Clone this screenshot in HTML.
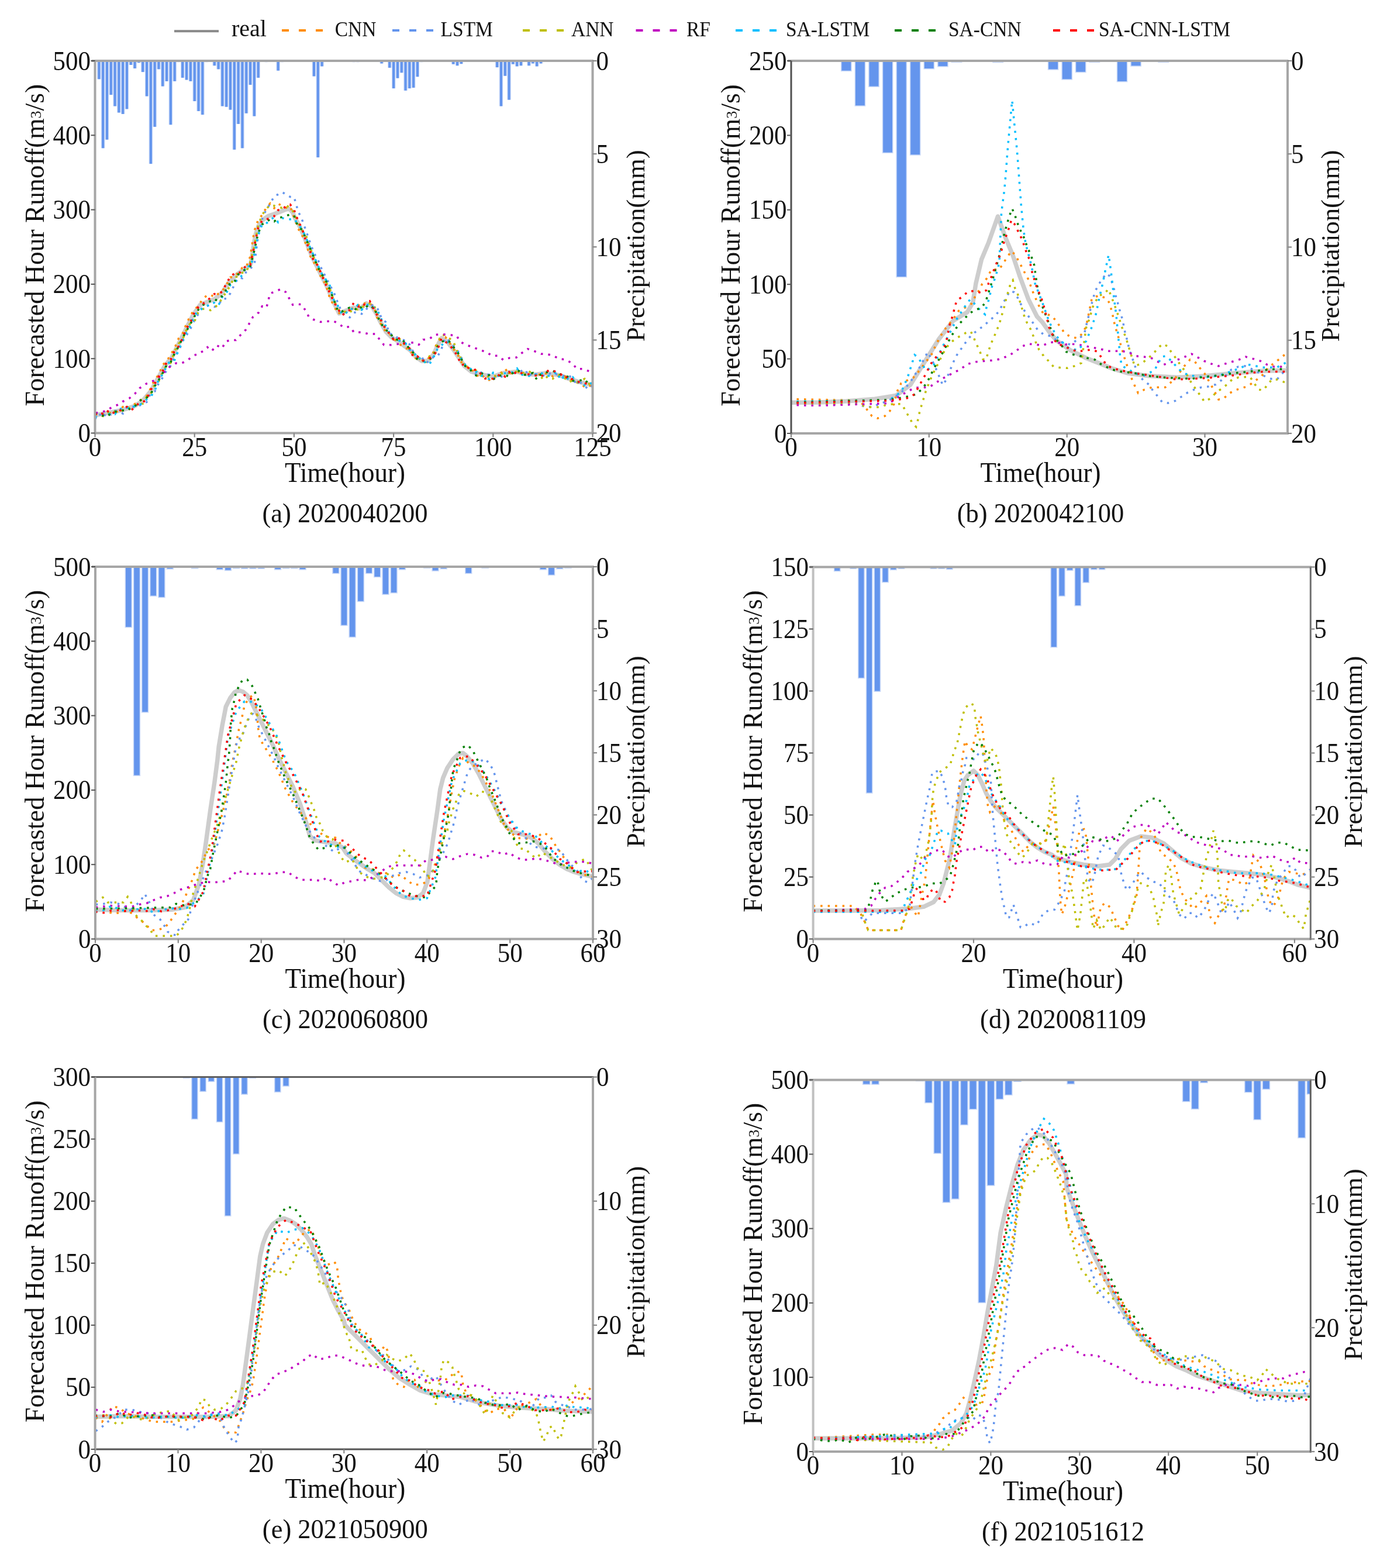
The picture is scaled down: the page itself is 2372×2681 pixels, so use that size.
<!DOCTYPE html>
<html><head><meta charset="utf-8"><title>Runoff forecasts</title>
<style>html,body{margin:0;padding:0;background:#fff;} svg{display:block;filter:blur(0.6px);}</style>
</head><body>
<svg width="2372" height="2681" viewBox="0 0 2372 2681" font-family="'Liberation Serif', 'Times New Roman', serif"><g id="panel-a">
<clipPath id="clipa"><rect x="162.5" y="104.0" width="851.0" height="636.5"/></clipPath>
<g clip-path="url(#clipa)">
<rect x="166.1" y="104.0" width="6.5" height="31.3" fill="#c9d9f8"/>
<rect x="172.9" y="104.0" width="6.5" height="149.3" fill="#c9d9f8"/>
<rect x="179.7" y="104.0" width="6.5" height="134.7" fill="#c9d9f8"/>
<rect x="186.5" y="104.0" width="6.5" height="58.1" fill="#c9d9f8"/>
<rect x="193.3" y="104.0" width="6.5" height="77.5" fill="#c9d9f8"/>
<rect x="200.1" y="104.0" width="6.5" height="88.5" fill="#c9d9f8"/>
<rect x="206.9" y="104.0" width="6.5" height="90.9" fill="#c9d9f8"/>
<rect x="213.7" y="104.0" width="6.5" height="82.4" fill="#c9d9f8"/>
<rect x="220.5" y="104.0" width="6.5" height="7.0" fill="#c9d9f8"/>
<rect x="227.3" y="104.0" width="6.5" height="13.0" fill="#c9d9f8"/>
<rect x="234.2" y="104.0" width="6.5" height="3.3" fill="#c9d9f8"/>
<rect x="241.0" y="104.0" width="6.5" height="19.1" fill="#c9d9f8"/>
<rect x="247.8" y="104.0" width="6.5" height="60.5" fill="#c9d9f8"/>
<rect x="254.6" y="104.0" width="6.5" height="176.1" fill="#c9d9f8"/>
<rect x="261.4" y="104.0" width="6.5" height="112.8" fill="#c9d9f8"/>
<rect x="268.2" y="104.0" width="6.5" height="14.3" fill="#c9d9f8"/>
<rect x="275.0" y="104.0" width="6.5" height="43.5" fill="#c9d9f8"/>
<rect x="281.8" y="104.0" width="6.5" height="34.9" fill="#c9d9f8"/>
<rect x="288.6" y="104.0" width="6.5" height="109.2" fill="#c9d9f8"/>
<rect x="295.4" y="104.0" width="6.5" height="34.9" fill="#c9d9f8"/>
<rect x="302.2" y="104.0" width="6.5" height="2.1" fill="#c9d9f8"/>
<rect x="309.0" y="104.0" width="6.5" height="28.9" fill="#c9d9f8"/>
<rect x="315.9" y="104.0" width="6.5" height="32.5" fill="#c9d9f8"/>
<rect x="322.7" y="104.0" width="6.5" height="34.9" fill="#c9d9f8"/>
<rect x="329.5" y="104.0" width="6.5" height="69.0" fill="#c9d9f8"/>
<rect x="336.3" y="104.0" width="6.5" height="86.0" fill="#c9d9f8"/>
<rect x="343.1" y="104.0" width="6.5" height="92.1" fill="#c9d9f8"/>
<rect x="349.9" y="104.0" width="6.5" height="2.1" fill="#c9d9f8"/>
<rect x="356.7" y="104.0" width="6.5" height="0.9" fill="#c9d9f8"/>
<rect x="363.5" y="104.0" width="6.5" height="8.2" fill="#c9d9f8"/>
<rect x="370.3" y="104.0" width="6.5" height="14.3" fill="#c9d9f8"/>
<rect x="377.1" y="104.0" width="6.5" height="77.5" fill="#c9d9f8"/>
<rect x="383.9" y="104.0" width="6.5" height="78.7" fill="#c9d9f8"/>
<rect x="390.7" y="104.0" width="6.5" height="83.6" fill="#c9d9f8"/>
<rect x="397.5" y="104.0" width="6.5" height="151.8" fill="#c9d9f8"/>
<rect x="404.4" y="104.0" width="6.5" height="107.9" fill="#c9d9f8"/>
<rect x="411.2" y="104.0" width="6.5" height="149.3" fill="#c9d9f8"/>
<rect x="418.0" y="104.0" width="6.5" height="89.7" fill="#c9d9f8"/>
<rect x="424.8" y="104.0" width="6.5" height="41.0" fill="#c9d9f8"/>
<rect x="431.6" y="104.0" width="6.5" height="94.6" fill="#c9d9f8"/>
<rect x="438.4" y="104.0" width="6.5" height="28.9" fill="#c9d9f8"/>
<rect x="452.0" y="104.0" width="6.5" height="2.1" fill="#c9d9f8"/>
<rect x="472.4" y="104.0" width="6.5" height="16.7" fill="#c9d9f8"/>
<rect x="479.2" y="104.0" width="6.5" height="2.1" fill="#c9d9f8"/>
<rect x="533.7" y="104.0" width="6.5" height="26.4" fill="#c9d9f8"/>
<rect x="540.5" y="104.0" width="6.5" height="165.1" fill="#c9d9f8"/>
<rect x="547.3" y="104.0" width="6.5" height="9.4" fill="#c9d9f8"/>
<rect x="601.8" y="104.0" width="6.5" height="2.1" fill="#c9d9f8"/>
<rect x="608.6" y="104.0" width="6.5" height="2.1" fill="#c9d9f8"/>
<rect x="649.4" y="104.0" width="6.5" height="4.5" fill="#c9d9f8"/>
<rect x="663.1" y="104.0" width="6.5" height="11.8" fill="#c9d9f8"/>
<rect x="669.9" y="104.0" width="6.5" height="47.1" fill="#c9d9f8"/>
<rect x="676.7" y="104.0" width="6.5" height="29.6" fill="#c9d9f8"/>
<rect x="683.5" y="104.0" width="6.5" height="20.3" fill="#c9d9f8"/>
<rect x="690.3" y="104.0" width="6.5" height="50.8" fill="#c9d9f8"/>
<rect x="697.1" y="104.0" width="6.5" height="47.1" fill="#c9d9f8"/>
<rect x="703.9" y="104.0" width="6.5" height="45.9" fill="#c9d9f8"/>
<rect x="710.7" y="104.0" width="6.5" height="27.2" fill="#c9d9f8"/>
<rect x="717.5" y="104.0" width="6.5" height="2.1" fill="#c9d9f8"/>
<rect x="772.0" y="104.0" width="6.5" height="5.7" fill="#c9d9f8"/>
<rect x="778.8" y="104.0" width="6.5" height="8.2" fill="#c9d9f8"/>
<rect x="785.6" y="104.0" width="6.5" height="5.2" fill="#c9d9f8"/>
<rect x="846.9" y="104.0" width="6.5" height="11.1" fill="#c9d9f8"/>
<rect x="853.7" y="104.0" width="6.5" height="77.5" fill="#c9d9f8"/>
<rect x="860.5" y="104.0" width="6.5" height="25.7" fill="#c9d9f8"/>
<rect x="867.3" y="104.0" width="6.5" height="66.6" fill="#c9d9f8"/>
<rect x="874.1" y="104.0" width="6.5" height="5.7" fill="#c9d9f8"/>
<rect x="880.9" y="104.0" width="6.5" height="9.4" fill="#c9d9f8"/>
<rect x="887.7" y="104.0" width="6.5" height="8.2" fill="#c9d9f8"/>
<rect x="901.3" y="104.0" width="6.5" height="8.2" fill="#c9d9f8"/>
<rect x="908.1" y="104.0" width="6.5" height="4.5" fill="#c9d9f8"/>
<rect x="915.0" y="104.0" width="6.5" height="9.4" fill="#c9d9f8"/>
<rect x="921.8" y="104.0" width="6.5" height="4.5" fill="#c9d9f8"/>
<rect x="167.3" y="104.0" width="4.1" height="31.3" fill="#6495ed"/>
<rect x="174.1" y="104.0" width="4.1" height="149.3" fill="#6495ed"/>
<rect x="180.9" y="104.0" width="4.1" height="134.7" fill="#6495ed"/>
<rect x="187.7" y="104.0" width="4.1" height="58.1" fill="#6495ed"/>
<rect x="194.5" y="104.0" width="4.1" height="77.5" fill="#6495ed"/>
<rect x="201.3" y="104.0" width="4.1" height="88.5" fill="#6495ed"/>
<rect x="208.1" y="104.0" width="4.1" height="90.9" fill="#6495ed"/>
<rect x="214.9" y="104.0" width="4.1" height="82.4" fill="#6495ed"/>
<rect x="221.7" y="104.0" width="4.1" height="7.0" fill="#6495ed"/>
<rect x="228.5" y="104.0" width="4.1" height="13.0" fill="#6495ed"/>
<rect x="235.3" y="104.0" width="4.1" height="3.3" fill="#6495ed"/>
<rect x="242.2" y="104.0" width="4.1" height="19.1" fill="#6495ed"/>
<rect x="249.0" y="104.0" width="4.1" height="60.5" fill="#6495ed"/>
<rect x="255.8" y="104.0" width="4.1" height="176.1" fill="#6495ed"/>
<rect x="262.6" y="104.0" width="4.1" height="112.8" fill="#6495ed"/>
<rect x="269.4" y="104.0" width="4.1" height="14.3" fill="#6495ed"/>
<rect x="276.2" y="104.0" width="4.1" height="43.5" fill="#6495ed"/>
<rect x="283.0" y="104.0" width="4.1" height="34.9" fill="#6495ed"/>
<rect x="289.8" y="104.0" width="4.1" height="109.2" fill="#6495ed"/>
<rect x="296.6" y="104.0" width="4.1" height="34.9" fill="#6495ed"/>
<rect x="303.4" y="104.0" width="4.1" height="2.1" fill="#6495ed"/>
<rect x="310.2" y="104.0" width="4.1" height="28.9" fill="#6495ed"/>
<rect x="317.0" y="104.0" width="4.1" height="32.5" fill="#6495ed"/>
<rect x="323.8" y="104.0" width="4.1" height="34.9" fill="#6495ed"/>
<rect x="330.7" y="104.0" width="4.1" height="69.0" fill="#6495ed"/>
<rect x="337.5" y="104.0" width="4.1" height="86.0" fill="#6495ed"/>
<rect x="344.3" y="104.0" width="4.1" height="92.1" fill="#6495ed"/>
<rect x="351.1" y="104.0" width="4.1" height="2.1" fill="#6495ed"/>
<rect x="357.9" y="104.0" width="4.1" height="0.9" fill="#6495ed"/>
<rect x="364.7" y="104.0" width="4.1" height="8.2" fill="#6495ed"/>
<rect x="371.5" y="104.0" width="4.1" height="14.3" fill="#6495ed"/>
<rect x="378.3" y="104.0" width="4.1" height="77.5" fill="#6495ed"/>
<rect x="385.1" y="104.0" width="4.1" height="78.7" fill="#6495ed"/>
<rect x="391.9" y="104.0" width="4.1" height="83.6" fill="#6495ed"/>
<rect x="398.7" y="104.0" width="4.1" height="151.8" fill="#6495ed"/>
<rect x="405.5" y="104.0" width="4.1" height="107.9" fill="#6495ed"/>
<rect x="412.4" y="104.0" width="4.1" height="149.3" fill="#6495ed"/>
<rect x="419.2" y="104.0" width="4.1" height="89.7" fill="#6495ed"/>
<rect x="426.0" y="104.0" width="4.1" height="41.0" fill="#6495ed"/>
<rect x="432.8" y="104.0" width="4.1" height="94.6" fill="#6495ed"/>
<rect x="439.6" y="104.0" width="4.1" height="28.9" fill="#6495ed"/>
<rect x="453.2" y="104.0" width="4.1" height="2.1" fill="#6495ed"/>
<rect x="473.6" y="104.0" width="4.1" height="16.7" fill="#6495ed"/>
<rect x="480.4" y="104.0" width="4.1" height="2.1" fill="#6495ed"/>
<rect x="534.9" y="104.0" width="4.1" height="26.4" fill="#6495ed"/>
<rect x="541.7" y="104.0" width="4.1" height="165.1" fill="#6495ed"/>
<rect x="548.5" y="104.0" width="4.1" height="9.4" fill="#6495ed"/>
<rect x="603.0" y="104.0" width="4.1" height="2.1" fill="#6495ed"/>
<rect x="609.8" y="104.0" width="4.1" height="2.1" fill="#6495ed"/>
<rect x="650.6" y="104.0" width="4.1" height="4.5" fill="#6495ed"/>
<rect x="664.2" y="104.0" width="4.1" height="11.8" fill="#6495ed"/>
<rect x="671.1" y="104.0" width="4.1" height="47.1" fill="#6495ed"/>
<rect x="677.9" y="104.0" width="4.1" height="29.6" fill="#6495ed"/>
<rect x="684.7" y="104.0" width="4.1" height="20.3" fill="#6495ed"/>
<rect x="691.5" y="104.0" width="4.1" height="50.8" fill="#6495ed"/>
<rect x="698.3" y="104.0" width="4.1" height="47.1" fill="#6495ed"/>
<rect x="705.1" y="104.0" width="4.1" height="45.9" fill="#6495ed"/>
<rect x="711.9" y="104.0" width="4.1" height="27.2" fill="#6495ed"/>
<rect x="718.7" y="104.0" width="4.1" height="2.1" fill="#6495ed"/>
<rect x="773.2" y="104.0" width="4.1" height="5.7" fill="#6495ed"/>
<rect x="780.0" y="104.0" width="4.1" height="8.2" fill="#6495ed"/>
<rect x="786.8" y="104.0" width="4.1" height="5.2" fill="#6495ed"/>
<rect x="848.1" y="104.0" width="4.1" height="11.1" fill="#6495ed"/>
<rect x="854.9" y="104.0" width="4.1" height="77.5" fill="#6495ed"/>
<rect x="861.7" y="104.0" width="4.1" height="25.7" fill="#6495ed"/>
<rect x="868.5" y="104.0" width="4.1" height="66.6" fill="#6495ed"/>
<rect x="875.3" y="104.0" width="4.1" height="5.7" fill="#6495ed"/>
<rect x="882.1" y="104.0" width="4.1" height="9.4" fill="#6495ed"/>
<rect x="888.9" y="104.0" width="4.1" height="8.2" fill="#6495ed"/>
<rect x="902.5" y="104.0" width="4.1" height="8.2" fill="#6495ed"/>
<rect x="909.3" y="104.0" width="4.1" height="4.5" fill="#6495ed"/>
<rect x="916.1" y="104.0" width="4.1" height="9.4" fill="#6495ed"/>
<rect x="923.0" y="104.0" width="4.1" height="4.5" fill="#6495ed"/>
</g>
<g clip-path="url(#clipa)" fill="none">
<polyline points="163.7,709.8 184.3,706.1 208.7,701.2 228.1,695.2 242.7,686.6 257.3,669.6 269.5,647.7 281.7,625.8 293.8,611.2 306.0,586.9 318.2,562.5 330.4,538.2 342.5,521.2 354.7,516.3 366.9,511.4 379.0,501.7 391.3,483.1 404.4,469.9 417.6,460.5 428.9,451.1 431.7,434.2 434.5,415.4 437.4,400.4 442.1,386.2 449.6,375.9 459.0,369.3 470.3,365.6 479.7,361.8 489.1,358.0 494.7,357.1 500.4,362.7 504.1,372.1 511.6,385.3 519.2,402.2 526.7,421.0 534.2,439.8 543.6,458.7 553.0,477.5 560.5,492.5 568.1,511.3 580.0,535.8 592.2,530.9 604.3,526.0 616.5,527.2 626.2,518.7 636.0,523.6 643.3,535.8 650.6,550.4 660.3,567.4 670.0,577.1 682.2,584.4 691.9,591.7 701.7,599.0 711.4,610.0 721.2,617.3 730.9,617.3 740.6,607.5 750.4,586.9 755.2,578.3 765.0,584.4 774.7,596.6 784.4,611.2 794.2,625.8 806.3,635.5 823.4,640.4 842.8,644.0 859.9,638.0 884.2,635.5 896.4,639.2 915.8,640.4 932.9,638.0 957.2,641.6 969.4,646.5 988.8,652.6 1014.4,658.7" stroke="#cdcdcd" stroke-width="7.5" stroke-linejoin="round"/>
<polyline points="162.5,709.5 169.3,707.3 176.1,707.9 182.9,708.7 189.7,705.9 196.5,706.3 203.3,701.6 210.2,695.7 217.0,699.4 223.8,697.6 230.6,690.6 237.4,687.0 244.2,681.4 251.0,676.7 257.8,663.6 264.6,648.4 271.4,641.1 278.2,623.9 285.0,617.8 291.9,606.2 298.7,595.2 305.5,578.6 312.3,570.3 319.1,552.9 325.9,539.5 332.7,528.3 339.5,523.4 346.3,511.3 353.1,505.8 359.9,503.7 366.7,508.0 373.5,502.1 380.4,497.3 387.2,487.3 394.0,474.2 400.8,473.4 407.6,465.8 414.4,457.8 421.2,456.3 428.0,438.4 434.8,395.2 441.6,375.5 448.4,367.6 455.2,355.7 462.1,347.8 468.9,355.9 475.7,348.5 482.5,351.8 489.3,355.3 496.1,352.8 502.9,371.5 509.7,390.6 516.5,402.1 523.3,417.6 530.1,437.1 536.9,448.6 543.7,464.6 550.6,475.9 557.4,487.0 564.2,510.6 571.0,522.2 577.8,537.0 584.6,532.4 591.4,533.9 598.2,529.1 605.0,526.6 611.8,523.1 618.6,516.9 625.4,519.3 632.3,518.9 639.1,523.6 645.9,546.0 652.7,555.6 659.5,567.1 666.3,571.1 673.1,578.1 679.9,585.7 686.7,591.0 693.5,595.7 700.3,595.7 707.1,609.6 713.9,614.8 720.8,616.0 727.6,617.3 734.4,611.0 741.2,602.8 748.0,584.2 754.8,578.1 761.6,576.2 768.4,585.3 775.2,596.5 782.0,604.7 788.8,618.9 795.6,622.7 802.5,632.5 809.3,634.0 816.1,642.5 822.9,639.4 829.7,647.3 836.5,649.8 843.3,643.9 850.1,643.3 856.9,637.5 863.7,630.2 870.5,639.3 877.3,637.9 884.1,635.7 891.0,636.8 897.8,640.0 904.6,640.5 911.4,638.1 918.2,638.0 925.0,642.0 931.8,638.5 938.6,639.1 945.4,643.6 952.2,640.4 959.0,646.2 965.8,643.1 972.7,647.7 979.5,650.2 986.3,654.5 993.1,654.6 999.9,662.2 1006.7,661.1 1013.5,657.5" stroke="#ff8c00" stroke-width="3.5" stroke-dasharray="3.5 9.0"/>
<polyline points="162.5,716.5 169.3,707.1 176.1,714.2 182.9,705.0 189.7,708.9 196.5,702.4 203.3,703.1 210.2,707.1 217.0,696.6 223.8,693.8 230.6,696.5 237.4,694.2 244.2,689.9 251.0,687.3 257.8,672.7 264.6,669.3 271.4,655.4 278.2,645.6 285.0,632.8 291.9,625.0 298.7,608.8 305.5,600.7 312.3,583.5 319.1,573.0 325.9,561.7 332.7,547.1 339.5,536.4 346.3,525.8 353.1,523.1 359.9,521.8 366.7,524.5 373.5,521.7 380.4,509.9 387.2,511.0 394.0,501.3 400.8,486.8 407.6,474.5 414.4,475.8 421.2,464.9 428.0,458.8 434.8,454.2 441.6,401.6 448.4,374.5 455.2,358.3 462.1,348.7 468.9,335.2 475.7,332.4 482.5,328.4 489.3,332.5 496.1,336.6 502.9,336.9 509.7,360.9 516.5,375.6 523.3,394.5 530.1,414.2 536.9,432.3 543.7,444.4 550.6,461.2 557.4,474.4 564.2,487.7 571.0,500.1 577.8,517.9 584.6,534.2 591.4,540.4 598.2,542.7 605.0,534.6 611.8,533.3 618.6,536.7 625.4,530.4 632.3,521.3 639.1,522.3 645.9,528.3 652.7,544.3 659.5,550.6 666.3,571.2 673.1,571.3 679.9,577.8 686.7,580.7 693.5,582.3 700.3,588.7 707.1,602.2 713.9,611.3 720.8,609.8 727.6,620.5 734.4,617.3 741.2,610.4 748.0,610.1 754.8,597.2 761.6,577.7 768.4,582.6 775.2,590.4 782.0,598.3 788.8,611.4 795.6,623.6 802.5,628.1 809.3,636.1 816.1,641.8 822.9,636.9 829.7,640.6 836.5,640.4 843.3,646.1 850.1,645.7 856.9,644.4 863.7,641.6 870.5,636.9 877.3,639.3 884.1,635.0 891.0,634.6 897.8,631.3 904.6,643.7 911.4,636.9 918.2,640.4 925.0,640.0 931.8,643.6 938.6,639.5 945.4,636.6 952.2,640.2 959.0,640.7 965.8,643.5 972.7,641.7 979.5,647.8 986.3,656.8 993.1,654.2 999.9,660.0 1006.7,665.7 1013.5,658.7" stroke="#6495ed" stroke-width="3.5" stroke-dasharray="3.5 9.0"/>
<polyline points="162.5,705.5 169.3,709.0 176.1,711.6 182.9,709.7 189.7,701.8 196.5,703.6 203.3,702.6 210.2,701.5 217.0,699.2 223.8,694.6 230.6,693.2 237.4,690.3 244.2,690.3 251.0,677.8 257.8,673.6 264.6,656.7 271.4,652.0 278.2,636.1 285.0,624.2 291.9,620.3 298.7,600.2 305.5,587.5 312.3,580.3 319.1,563.2 325.9,551.7 332.7,549.3 339.5,532.7 346.3,528.4 353.1,527.7 359.9,530.5 366.7,525.9 373.5,520.3 380.4,508.7 387.2,499.1 394.0,487.7 400.8,474.0 407.6,472.6 414.4,466.3 421.2,465.2 428.0,447.9 434.8,421.7 441.6,385.0 448.4,367.4 455.2,357.3 462.1,350.5 468.9,351.8 475.7,354.1 482.5,355.5 489.3,351.6 496.1,354.7 502.9,364.0 509.7,380.2 516.5,393.7 523.3,402.4 530.1,422.9 536.9,441.0 543.7,456.0 550.6,472.0 557.4,482.3 564.2,493.7 571.0,514.4 577.8,527.8 584.6,535.4 591.4,531.7 598.2,534.4 605.0,527.3 611.8,529.3 618.6,524.3 625.4,523.7 632.3,518.9 639.1,520.5 645.9,537.9 652.7,552.4 659.5,561.8 666.3,571.3 673.1,580.9 679.9,580.3 686.7,579.8 693.5,592.2 700.3,597.1 707.1,606.0 713.9,608.9 720.8,618.6 727.6,619.2 734.4,609.1 741.2,608.0 748.0,587.7 754.8,571.8 761.6,573.9 768.4,578.4 775.2,583.4 782.0,601.3 788.8,614.0 795.6,627.7 802.5,629.8 809.3,630.7 816.1,634.5 822.9,642.6 829.7,643.9 836.5,644.1 843.3,642.8 850.1,642.8 856.9,639.1 863.7,636.8 870.5,638.1 877.3,636.6 884.1,635.2 891.0,637.5 897.8,637.9 904.6,634.6 911.4,639.7 918.2,642.5 925.0,647.8 931.8,640.8 938.6,648.5 945.4,647.6 952.2,640.9 959.0,641.7 965.8,646.3 972.7,653.3 979.5,650.7 986.3,653.5 993.1,651.2 999.9,647.6 1006.7,655.7 1013.5,660.4" stroke="#bfbf00" stroke-width="3.5" stroke-dasharray="3.5 9.0"/>
<polyline points="163.7,706.1 177.0,703.7 189.2,697.6 200.2,692.7 209.9,686.6 220.8,681.3 230.6,673.3 239.1,663.5 250.0,656.2 259.8,652.6 270.7,646.5 279.2,638.0 289.0,628.2 301.2,620.9 310.9,620.9 320.6,616.1 330.4,608.3 338.9,605.1 347.4,600.2 354.7,593.7 362.0,600.2 370.5,590.5 380.2,595.4 385.1,584.4 393.6,581.5 403.4,581.5 411.9,572.3 420.4,563.7 426.5,552.8 432.6,541.8 442.3,534.5 448.4,523.6 455.7,526.0 458.8,513.8 461.8,501.7 470.3,498.8 480.0,494.4 488.5,499.2 494.6,510.2 500.7,521.2 508.0,519.9 515.3,520.7 522.6,530.9 528.7,542.6 538.4,547.4 548.2,550.4 559.1,549.6 570.1,548.7 579.8,554.0 588.5,560.1 598.3,558.4 605.6,568.6 618.9,567.9 629.9,571.0 642.1,571.0 649.4,580.8 656.7,589.8 668.8,589.8 689.5,586.9 709.0,585.6 716.3,589.3 723.6,580.8 734.5,579.6 743.1,572.3 756.4,571.5 769.8,572.7 780.8,574.0 786.9,584.4 797.8,589.8 808.8,593.7 819.7,597.8 831.9,602.2 841.6,608.3 851.3,608.3 861.1,615.6 872.0,611.9 883.0,611.2 892.7,603.4 902.5,596.6 913.4,600.2 925.6,605.1 936.5,605.8 945.0,607.5 956.0,613.6 966.9,614.8 979.1,621.4 986.4,630.7 997.4,630.7 1009.5,635.5 1018.1,636.7" stroke="#c000c0" stroke-width="3.5" stroke-dasharray="3.5 9.0"/>
<polyline points="162.5,713.5 169.3,709.7 176.1,708.8 182.9,710.7 189.7,705.5 196.5,708.1 203.3,699.6 210.2,698.4 217.0,696.5 223.8,699.3 230.6,694.0 237.4,692.6 244.2,689.4 251.0,682.8 257.8,678.0 264.6,668.5 271.4,649.1 278.2,640.0 285.0,626.4 291.9,615.3 298.7,615.3 305.5,598.6 312.3,582.0 319.1,567.7 325.9,556.7 332.7,538.9 339.5,531.5 346.3,527.3 353.1,524.6 359.9,517.9 366.7,517.7 373.5,522.6 380.4,507.2 387.2,500.9 394.0,487.1 400.8,483.5 407.6,475.0 414.4,471.2 421.2,453.8 428.0,456.4 434.8,435.3 441.6,402.2 448.4,383.5 455.2,382.2 462.1,375.5 468.9,371.7 475.7,380.1 482.5,373.0 489.3,373.8 496.1,375.0 502.9,373.9 509.7,383.7 516.5,391.5 523.3,406.2 530.1,422.9 536.9,437.7 543.7,454.1 550.6,468.5 557.4,478.2 564.2,488.8 571.0,513.3 577.8,522.9 584.6,537.6 591.4,535.9 598.2,527.4 605.0,529.0 611.8,521.6 618.6,529.5 625.4,521.8 632.3,520.4 639.1,525.5 645.9,531.4 652.7,546.9 659.5,556.9 666.3,569.4 673.1,579.6 679.9,580.9 686.7,584.6 693.5,586.8 700.3,597.8 707.1,600.7 713.9,613.7 720.8,611.8 727.6,620.7 734.4,623.0 741.2,611.3 748.0,597.0 754.8,591.1 761.6,583.2 768.4,586.4 775.2,595.7 782.0,600.3 788.8,614.3 795.6,624.2 802.5,627.3 809.3,637.0 816.1,635.8 822.9,642.2 829.7,644.7 836.5,647.9 843.3,637.4 850.1,643.9 856.9,639.7 863.7,638.1 870.5,636.8 877.3,636.5 884.1,629.9 891.0,639.6 897.8,643.3 904.6,642.7 911.4,644.1 918.2,637.9 925.0,637.1 931.8,641.8 938.6,642.6 945.4,640.4 952.2,635.8 959.0,650.2 965.8,641.8 972.7,649.6 979.5,645.0 986.3,653.9 993.1,653.5 999.9,659.0 1006.7,659.0 1013.5,653.1" stroke="#00bfff" stroke-width="3.5" stroke-dasharray="3.5 9.0"/>
<polyline points="162.5,707.1 169.3,710.4 176.1,710.7 182.9,712.7 189.7,706.7 196.5,704.2 203.3,703.0 210.2,701.6 217.0,702.9 223.8,697.4 230.6,695.0 237.4,686.8 244.2,681.0 251.0,679.8 257.8,673.9 264.6,660.4 271.4,649.9 278.2,638.0 285.0,624.4 291.9,619.4 298.7,603.7 305.5,592.4 312.3,577.6 319.1,565.4 325.9,553.5 332.7,540.8 339.5,529.0 346.3,522.2 353.1,517.0 359.9,515.0 366.7,516.6 373.5,507.5 380.4,506.5 387.2,494.4 394.0,483.4 400.8,482.3 407.6,468.9 414.4,463.8 421.2,459.9 428.0,455.2 434.8,429.0 441.6,398.2 448.4,383.7 455.2,379.3 462.1,374.9 468.9,378.7 475.7,373.1 482.5,371.2 489.3,368.9 496.1,366.8 502.9,368.4 509.7,387.8 516.5,392.8 523.3,408.1 530.1,424.3 536.9,440.3 543.7,457.0 550.6,469.3 557.4,480.1 564.2,495.1 571.0,512.5 577.8,531.9 584.6,533.0 591.4,528.3 598.2,526.1 605.0,525.8 611.8,531.5 618.6,524.2 625.4,521.7 632.3,528.8 639.1,524.1 645.9,541.6 652.7,554.6 659.5,564.4 666.3,567.3 673.1,578.9 679.9,581.0 686.7,580.7 693.5,586.3 700.3,596.8 707.1,603.6 713.9,614.4 720.8,617.7 727.6,615.9 734.4,614.6 741.2,608.7 748.0,593.1 754.8,585.1 761.6,581.2 768.4,583.9 775.2,592.8 782.0,601.1 788.8,613.5 795.6,625.9 802.5,629.6 809.3,639.0 816.1,642.9 822.9,637.8 829.7,641.4 836.5,641.5 843.3,649.2 850.1,643.3 856.9,641.7 863.7,640.5 870.5,644.3 877.3,637.5 884.1,632.9 891.0,635.7 897.8,640.9 904.6,639.6 911.4,637.6 918.2,649.1 925.0,639.8 931.8,636.7 938.6,636.3 945.4,634.1 952.2,636.9 959.0,640.6 965.8,643.3 972.7,644.4 979.5,650.7 986.3,651.2 993.1,650.2 999.9,648.5 1006.7,656.8 1013.5,658.1" stroke="#008000" stroke-width="3.5" stroke-dasharray="3.5 9.0"/>
<polyline points="162.5,709.1 169.3,704.6 176.1,707.8 182.9,701.8 189.7,708.2 196.5,704.4 203.3,703.1 210.2,698.5 217.0,695.5 223.8,701.5 230.6,697.0 237.4,689.1 244.2,687.8 251.0,682.6 257.8,666.5 264.6,656.2 271.4,643.9 278.2,634.7 285.0,619.3 291.9,615.2 298.7,599.4 305.5,592.2 312.3,578.4 319.1,561.4 325.9,550.6 332.7,533.4 339.5,524.6 346.3,520.8 353.1,513.1 359.9,510.0 366.7,502.5 373.5,503.0 380.4,498.2 387.2,484.5 394.0,473.1 400.8,467.6 407.6,467.9 414.4,462.6 421.2,453.2 428.0,452.8 434.8,421.1 441.6,389.2 448.4,377.0 455.2,375.0 462.1,373.4 468.9,369.8 475.7,359.1 482.5,358.7 489.3,351.9 496.1,349.5 502.9,358.7 509.7,377.2 516.5,390.7 523.3,412.7 530.1,428.8 536.9,447.1 543.7,454.0 550.6,471.3 557.4,487.2 564.2,501.0 571.0,516.6 577.8,527.6 584.6,539.3 591.4,534.8 598.2,529.9 605.0,518.0 611.8,523.7 618.6,526.3 625.4,517.7 632.3,514.8 639.1,528.3 645.9,540.7 652.7,549.0 659.5,563.2 666.3,570.6 673.1,580.2 679.9,576.5 686.7,581.9 693.5,590.6 700.3,595.3 707.1,610.9 713.9,609.3 720.8,617.1 727.6,615.9 734.4,612.3 741.2,608.8 748.0,598.7 754.8,579.1 761.6,584.3 768.4,588.9 775.2,598.3 782.0,607.7 788.8,624.1 795.6,622.6 802.5,631.1 809.3,632.6 816.1,631.8 822.9,640.0 829.7,647.2 836.5,645.6 843.3,647.8 850.1,643.3 856.9,639.0 863.7,644.0 870.5,635.9 877.3,641.1 884.1,634.7 891.0,637.7 897.8,640.2 904.6,639.9 911.4,641.8 918.2,642.1 925.0,644.5 931.8,638.3 938.6,632.8 945.4,633.4 952.2,636.6 959.0,639.8 965.8,646.9 972.7,642.7 979.5,649.6 986.3,651.8 993.1,654.3 999.9,654.7 1006.7,658.0 1013.5,658.5" stroke="#ff0000" stroke-width="3.5" stroke-dasharray="3.5 9.0"/>
</g>
<line x1="156.5" y1="104.0" x2="1015.0" y2="104.0" stroke="#a6a6a6" stroke-width="4.0"/>
<line x1="161.0" y1="740.5" x2="1015.0" y2="740.5" stroke="#a6a6a6" stroke-width="4.0"/>
<line x1="162.5" y1="104.0" x2="162.5" y2="742.0" stroke="#a6a6a6" stroke-width="4.0"/>
<line x1="1013.5" y1="104.0" x2="1013.5" y2="742.0" stroke="#a6a6a6" stroke-width="4.0"/>
<line x1="155.5" y1="740.5" x2="162.5" y2="740.5" stroke="#555" stroke-width="2"/>
<text transform="translate(155.0,756.0) scale(1.0,1.1)" font-size="43" text-anchor="end" fill="#111">0</text>
<line x1="155.5" y1="613.2" x2="162.5" y2="613.2" stroke="#555" stroke-width="2"/>
<text transform="translate(155.0,628.7) scale(1.0,1.1)" font-size="43" text-anchor="end" fill="#111">100</text>
<line x1="155.5" y1="485.9" x2="162.5" y2="485.9" stroke="#555" stroke-width="2"/>
<text transform="translate(155.0,501.4) scale(1.0,1.1)" font-size="43" text-anchor="end" fill="#111">200</text>
<line x1="155.5" y1="358.6" x2="162.5" y2="358.6" stroke="#555" stroke-width="2"/>
<text transform="translate(155.0,374.1) scale(1.0,1.1)" font-size="43" text-anchor="end" fill="#111">300</text>
<line x1="155.5" y1="231.3" x2="162.5" y2="231.3" stroke="#555" stroke-width="2"/>
<text transform="translate(155.0,246.8) scale(1.0,1.1)" font-size="43" text-anchor="end" fill="#111">400</text>
<line x1="155.5" y1="104.0" x2="162.5" y2="104.0" stroke="#555" stroke-width="2"/>
<text transform="translate(155.0,119.5) scale(1.0,1.1)" font-size="43" text-anchor="end" fill="#111">500</text>
<line x1="162.5" y1="740.5" x2="162.5" y2="747.5" stroke="#888" stroke-width="2.2"/>
<text transform="translate(162.5,779.5) scale(1.0,1.1)" font-size="43" text-anchor="middle" fill="#111">0</text>
<line x1="332.7" y1="740.5" x2="332.7" y2="747.5" stroke="#888" stroke-width="2.2"/>
<text transform="translate(332.7,779.5) scale(1.0,1.1)" font-size="43" text-anchor="middle" fill="#111">25</text>
<line x1="502.9" y1="740.5" x2="502.9" y2="747.5" stroke="#888" stroke-width="2.2"/>
<text transform="translate(502.9,779.5) scale(1.0,1.1)" font-size="43" text-anchor="middle" fill="#111">50</text>
<line x1="673.1" y1="740.5" x2="673.1" y2="747.5" stroke="#888" stroke-width="2.2"/>
<text transform="translate(673.1,779.5) scale(1.0,1.1)" font-size="43" text-anchor="middle" fill="#111">75</text>
<line x1="843.3" y1="740.5" x2="843.3" y2="747.5" stroke="#888" stroke-width="2.2"/>
<text transform="translate(843.3,779.5) scale(1.0,1.1)" font-size="43" text-anchor="middle" fill="#111">100</text>
<line x1="1013.5" y1="740.5" x2="1013.5" y2="747.5" stroke="#888" stroke-width="2.2"/>
<text transform="translate(1013.5,779.5) scale(1.0,1.1)" font-size="43" text-anchor="middle" fill="#111">125</text>
<line x1="1013.5" y1="104.0" x2="1020.5" y2="104.0" stroke="#888" stroke-width="2.2"/>
<text transform="translate(1019.5,119.5) scale(1.0,1.1)" font-size="43" text-anchor="start" fill="#111">0</text>
<line x1="1013.5" y1="263.1" x2="1020.5" y2="263.1" stroke="#888" stroke-width="2.2"/>
<text transform="translate(1019.5,278.6) scale(1.0,1.1)" font-size="43" text-anchor="start" fill="#111">5</text>
<line x1="1013.5" y1="422.2" x2="1020.5" y2="422.2" stroke="#888" stroke-width="2.2"/>
<text transform="translate(1019.5,437.8) scale(1.0,1.1)" font-size="43" text-anchor="start" fill="#111">10</text>
<line x1="1013.5" y1="581.4" x2="1020.5" y2="581.4" stroke="#888" stroke-width="2.2"/>
<text transform="translate(1019.5,596.9) scale(1.0,1.1)" font-size="43" text-anchor="start" fill="#111">15</text>
<line x1="1013.5" y1="740.5" x2="1020.5" y2="740.5" stroke="#888" stroke-width="2.2"/>
<text transform="translate(1019.5,756.0) scale(1.0,1.1)" font-size="43" text-anchor="start" fill="#111">20</text>
<text transform="translate(590.0,823.5) scale(1.0,1.07)" font-size="45" text-anchor="middle" fill="#111">Time(hour)</text>
<text transform="translate(590.0,892.5) scale(1.0,1.03)" font-size="44.5" text-anchor="middle" fill="#111">(a) 2020040200</text>
<text transform="translate(74.5,419.2) rotate(-90)" font-size="45.5" text-anchor="middle" fill="#111">Forecasted Hour Runoff(m<tspan font-size="26" dy="-5">3</tspan><tspan dy="5">/s)</tspan></text>
<text transform="translate(1101.5,420.2) rotate(-90)" font-size="44.7" text-anchor="middle" fill="#111">Precipitation(mm)</text>
</g>
<g id="panel-b">
<clipPath id="clipb"><rect x="1353.0" y="104.0" width="849.0" height="637.0"/></clipPath>
<g clip-path="url(#clipb)">
<rect x="1437.9" y="104.0" width="18.8" height="18.2" fill="#c9d9f8"/>
<rect x="1461.5" y="104.0" width="18.8" height="77.8" fill="#c9d9f8"/>
<rect x="1485.1" y="104.0" width="18.8" height="45.0" fill="#c9d9f8"/>
<rect x="1508.7" y="104.0" width="18.8" height="158.1" fill="#c9d9f8"/>
<rect x="1532.3" y="104.0" width="18.8" height="370.5" fill="#c9d9f8"/>
<rect x="1555.8" y="104.0" width="18.8" height="161.8" fill="#c9d9f8"/>
<rect x="1579.4" y="104.0" width="18.8" height="14.5" fill="#c9d9f8"/>
<rect x="1603.0" y="104.0" width="18.8" height="10.6" fill="#c9d9f8"/>
<rect x="1626.6" y="104.0" width="18.8" height="3.1" fill="#c9d9f8"/>
<rect x="1697.3" y="104.0" width="18.8" height="3.4" fill="#c9d9f8"/>
<rect x="1791.7" y="104.0" width="18.8" height="15.8" fill="#c9d9f8"/>
<rect x="1815.3" y="104.0" width="18.8" height="32.7" fill="#c9d9f8"/>
<rect x="1838.8" y="104.0" width="18.8" height="20.3" fill="#c9d9f8"/>
<rect x="1862.4" y="104.0" width="18.8" height="3.1" fill="#c9d9f8"/>
<rect x="1909.6" y="104.0" width="18.8" height="36.5" fill="#c9d9f8"/>
<rect x="1933.2" y="104.0" width="18.8" height="9.8" fill="#c9d9f8"/>
<rect x="1980.3" y="104.0" width="18.8" height="3.1" fill="#c9d9f8"/>
<rect x="1439.4" y="104.0" width="15.8" height="16.7" fill="#6495ed"/>
<rect x="1463.0" y="104.0" width="15.8" height="76.3" fill="#6495ed"/>
<rect x="1486.6" y="104.0" width="15.8" height="43.5" fill="#6495ed"/>
<rect x="1510.2" y="104.0" width="15.8" height="156.6" fill="#6495ed"/>
<rect x="1533.8" y="104.0" width="15.8" height="369.0" fill="#6495ed"/>
<rect x="1557.3" y="104.0" width="15.8" height="160.3" fill="#6495ed"/>
<rect x="1580.9" y="104.0" width="15.8" height="13.0" fill="#6495ed"/>
<rect x="1604.5" y="104.0" width="15.8" height="9.1" fill="#6495ed"/>
<rect x="1628.1" y="104.0" width="15.8" height="1.6" fill="#6495ed"/>
<rect x="1698.8" y="104.0" width="15.8" height="1.9" fill="#6495ed"/>
<rect x="1793.2" y="104.0" width="15.8" height="14.3" fill="#6495ed"/>
<rect x="1816.8" y="104.0" width="15.8" height="31.2" fill="#6495ed"/>
<rect x="1840.3" y="104.0" width="15.8" height="18.8" fill="#6495ed"/>
<rect x="1863.9" y="104.0" width="15.8" height="1.6" fill="#6495ed"/>
<rect x="1911.1" y="104.0" width="15.8" height="35.0" fill="#6495ed"/>
<rect x="1934.7" y="104.0" width="15.8" height="8.3" fill="#6495ed"/>
<rect x="1981.8" y="104.0" width="15.8" height="1.6" fill="#6495ed"/>
</g>
<g clip-path="url(#clipb)" fill="none">
<polyline points="1350.0,688.4 1398.7,687.9 1447.3,686.0 1496.0,682.3 1532.5,676.2 1556.9,658.0 1581.2,619.0 1605.5,580.1 1629.9,548.5 1654.2,533.8 1663.9,516.8 1668.8,485.2 1678.5,443.8 1690.7,414.6 1706.5,370.1 1719.9,407.3 1732.1,436.5 1744.2,473.0 1758.8,511.9 1773.5,541.2 1782.2,550.4 1794.3,567.4 1806.5,582.0 1830.8,599.0 1855.2,611.2 1879.5,620.9 1903.8,630.7 1928.2,638.0 1964.7,642.8 2013.4,645.3 2062.0,642.8 2110.7,638.0 2159.4,634.3 2204.4,633.1" stroke="#cdcdcd" stroke-width="7.5" stroke-linejoin="round"/>
<polyline points="1350.0,682.3 1466.8,684.7 1476.5,692.0 1483.8,701.8 1491.2,711.5 1500.9,715.2 1513.1,711.5 1521.6,703.0 1528.9,690.8 1535.0,667.7 1541.0,655.5 1550.8,650.7 1561.7,645.8 1570.2,636.1 1578.8,625.1 1586.1,615.4 1593.4,605.6 1598.2,594.7 1604.3,582.5 1610.4,571.6 1617.7,560.6 1629.9,546.0 1639.6,531.4 1651.8,525.3 1661.5,519.2 1667.6,507.1 1673.7,497.3 1679.8,485.2 1687.1,476.7 1695.6,460.8 1709.0,460.8 1715.0,451.1 1722.3,440.2 1729.6,429.2 1736.9,436.5 1741.8,446.2 1747.9,457.2 1754.0,469.4 1760.1,480.3 1763.7,492.5 1768.6,504.6 1773.5,515.6 1778.3,526.5 1784.4,536.3 1798.0,539.4 1806.5,549.1 1813.8,560.1 1821.1,569.8 1830.8,575.9 1843.0,578.3 1851.5,569.8 1857.6,557.7 1867.3,510.0 1879.5,505.2 1891.7,510.0 1897.8,518.6 1900.8,530.7 1903.8,542.9 1906.3,555.1 1909.9,567.2 1913.6,579.4 1917.2,591.6 1920.9,603.7 1924.5,617.1 1928.2,626.9 1936.7,651.2 1946.4,672.0 1957.4,666.0 1969.6,662.3 1981.7,662.3 1992.7,662.3 2002.4,653.8 2012.1,644.0 2025.5,625.8 2035.3,614.8 2042.6,617.3 2051.1,628.2 2059.6,638.0 2069.3,655.0 2077.9,670.8 2083.9,683.0 2092.5,681.8 2101.0,673.3 2111.9,667.2 2124.1,663.5 2135.0,659.9 2146.0,651.3 2156.9,644.0 2169.1,628.2 2182.5,618.5 2192.2,610.0 2204.4,601.5" stroke="#ff8c00" stroke-width="3.5" stroke-dasharray="3.5 9.0"/>
<polyline points="1350.0,689.6 1466.8,689.6 1479.0,695.7 1489.9,695.7 1500.9,692.0 1520.4,684.7 1541.3,671.3 1556.9,653.1 1573.9,626.3 1586.5,602.0 1593.4,614.2 1603.1,636.1 1612.3,658.7 1618.9,648.2 1623.8,634.8 1628.7,623.9 1633.5,611.7 1639.6,602.0 1646.9,592.3 1654.2,581.3 1662.7,571.6 1672.5,564.3 1682.2,557.0 1691.9,548.5 1701.7,539.9 1709.0,531.4 1715.0,519.2 1727.2,497.3 1734.5,499.8 1740.6,509.5 1746.7,521.7 1752.8,532.6 1760.1,542.4 1767.4,553.3 1774.7,564.3 1784.4,571.6 1796.8,574.7 1808.9,583.2 1830.8,589.3 1854.0,572.1 1860.0,546.5 1863.7,534.4 1866.1,522.2 1869.8,510.0 1872.2,499.1 1878.3,488.1 1884.4,477.2 1892.9,467.5 1897.8,472.3 1902.6,485.7 1906.3,497.9 1908.7,508.8 1912.4,521.0 1916.0,534.4 1919.7,546.5 1922.1,558.7 1924.5,570.9 1928.2,583.1 1930.6,595.2 1945.2,638.0 1955.0,650.1 1964.7,657.4 1972.0,668.4 1979.3,676.9 1987.8,687.9 1997.5,689.1 2009.7,685.4 2020.7,678.1 2031.6,670.8 2042.6,666.0 2054.7,662.3 2065.7,661.1 2079.1,657.4 2088.8,650.1 2105.8,631.9 2118.0,627.0 2129.0,625.8 2139.9,630.7 2149.6,635.5 2161.8,642.8 2174.0,647.7 2183.7,648.9 2193.5,638.0 2204.4,623.4" stroke="#6495ed" stroke-width="3.5" stroke-dasharray="3.5 9.0"/>
<polyline points="1350.0,689.6 1466.8,690.8 1479.0,694.5 1493.6,696.9 1504.5,695.7 1516.7,692.0 1528.9,690.8 1542.3,690.8 1548.3,701.8 1554.4,712.7 1560.5,723.7 1566.6,729.8 1570.2,716.4 1572.7,704.2 1576.3,692.0 1580.0,679.9 1583.6,667.7 1593.4,643.4 1617.7,594.7 1629.9,582.5 1640.8,575.2 1651.8,569.1 1660.3,566.7 1666.4,580.1 1671.2,591.0 1676.1,602.0 1681.0,614.2 1685.8,615.4 1689.5,604.4 1693.1,592.3 1698.0,580.1 1702.9,569.1 1707.7,557.0 1711.4,546.0 1715.0,532.6 1718.7,520.5 1721.1,508.3 1724.8,497.3 1728.4,484.0 1732.1,479.1 1735.7,492.5 1740.6,503.4 1744.2,515.6 1747.9,527.8 1751.5,539.9 1756.4,552.1 1762.5,563.1 1767.4,575.2 1772.2,587.4 1777.1,598.3 1784.4,608.1 1784.6,608.6 1793.1,617.1 1801.6,626.9 1813.8,628.7 1826.0,629.3 1838.1,625.6 1849.1,620.8 1857.6,559.9 1862.5,546.5 1866.1,534.4 1869.8,522.2 1879.5,505.2 1888.0,502.7 1895.9,494.2 1900.2,506.4 1905.1,518.6 1909.3,530.7 1913.6,542.9 1917.2,555.1 1920.9,566.0 1925.8,578.2 1929.4,590.4 1933.1,602.5 1940.4,625.8 1951.3,622.1 1961.0,614.8 1970.8,606.3 1979.3,596.6 1987.8,588.1 1996.3,591.7 2003.6,602.7 2010.9,612.4 2018.2,623.4 2025.5,633.1 2037.7,655.0 2052.3,675.7 2059.6,686.6 2069.3,681.8 2079.1,672.0 2088.8,664.7 2098.5,657.4 2107.1,648.9 2118.0,645.3 2137.5,644.0 2144.8,655.0 2152.1,666.0 2160.6,667.2 2167.9,657.4 2175.2,648.9 2183.7,648.9 2204.4,656.2" stroke="#bfbf00" stroke-width="3.5" stroke-dasharray="3.5 9.0"/>
<polyline points="1350.0,692.0 1379.2,693.3 1406.0,693.3 1520.4,689.6 1542.3,675.0 1553.2,668.9 1564.2,662.8 1576.3,662.8 1589.7,661.6 1600.7,654.3 1610.4,648.2 1621.3,642.1 1633.5,636.1 1644.5,630.0 1654.2,622.7 1666.4,619.0 1678.5,617.8 1691.9,616.6 1704.1,615.4 1716.3,611.7 1727.2,606.9 1738.2,599.6 1747.9,592.3 1758.8,587.9 1771.0,589.3 1772.4,589.3 1783.4,590.5 1795.6,585.6 1806.5,584.4 1819.9,589.3 1832.1,588.1 1844.2,589.3 1856.4,591.7 1868.6,594.2 1881.9,596.6 1894.1,600.2 1906.3,600.2 1918.5,600.2 1930.6,602.7 1942.8,608.8 1955.0,610.0 1967.1,611.2 1978.1,617.3 1990.2,623.4 2002.4,619.7 2014.6,614.8 2026.7,610.0 2037.7,605.1 2048.7,611.2 2059.6,617.3 2071.8,622.1 2083.9,625.8 2094.9,622.1 2107.1,618.5 2119.2,614.8 2130.2,610.0 2143.6,613.6 2155.7,617.3 2166.7,623.4 2178.8,627.0 2191.0,627.0 2204.4,625.8" stroke="#c000c0" stroke-width="3.5" stroke-dasharray="3.5 9.0"/>
<polyline points="1350.0,686.7 1520.4,684.2 1541.3,670.1 1552.0,645.8 1564.2,606.9 1570.2,611.2 1583.6,633.6 1595.8,626.3 1612.1,592.3 1625.0,567.9 1637.2,543.6 1651.8,521.7 1659.1,511.9 1666.4,519.2 1676.1,530.2 1684.6,537.5 1687.1,525.3 1690.7,513.2 1696.8,488.8 1701.7,475.4 1705.3,463.3 1709.0,448.7 1712.6,362.8 1717.5,326.3 1719.9,299.6 1723.6,250.9 1727.2,211.9 1730.9,171.8 1734.5,209.5 1739.4,258.2 1743.0,306.9 1746.7,355.5 1750.3,392.0 1754.0,416.4 1763.7,452.9 1770.0,484.6 1782.2,516.3 1794.3,550.4 1806.5,574.7 1826.0,594.2 1843.0,599.0 1857.6,583.1 1867.3,558.7 1874.6,535.6 1879.5,511.3 1885.6,485.7 1890.5,461.4 1895.9,435.8 1899.6,461.4 1902.6,485.7 1905.1,510.0 1906.9,523.4 1908.7,536.8 1911.2,562.4 1913.6,587.9 1916.0,613.5 1918.5,625.6 1928.2,630.7 1940.4,638.0 1955.0,642.8 1974.4,633.1 1986.6,610.0 1993.9,608.8 2003.6,617.3 2012.1,627.0 2020.7,635.5 2032.8,641.6 2062.0,645.3 2086.4,641.6 2110.7,633.1 2135.0,623.4 2159.4,628.2 2183.7,628.2 2204.4,617.3" stroke="#00bfff" stroke-width="3.5" stroke-dasharray="3.5 9.0"/>
<polyline points="1350.0,688.4 1520.4,683.5 1542.3,679.9 1555.6,677.4 1567.8,673.8 1578.8,662.8 1584.8,654.3 1590.9,643.4 1595.8,632.4 1601.9,621.5 1608.0,610.5 1614.0,599.6 1620.1,587.4 1626.2,576.4 1632.3,565.5 1639.6,554.5 1648.1,546.0 1657.9,536.3 1666.4,530.2 1678.5,526.5 1685.8,515.6 1689.5,503.4 1693.1,492.5 1696.8,480.3 1700.4,468.1 1704.1,454.8 1707.7,441.4 1711.4,429.2 1713.8,417.0 1716.3,404.9 1722.3,382.3 1726.0,370.1 1730.9,356.7 1735.7,367.7 1739.4,379.9 1744.2,392.0 1750.3,404.2 1756.4,421.2 1763.7,438.3 1768.6,452.9 1773.5,487.6 1778.3,509.5 1784.4,529.0 1791.9,547.9 1800.4,572.3 1807.7,582.0 1816.2,591.7 1823.5,601.5 1835.7,606.3 1847.9,608.8 1860.0,612.4 1872.2,614.8 1881.9,622.1 1894.1,628.2 1906.3,633.1 1918.5,635.5 1940.4,638.0 1964.7,642.8 1989.0,645.3 2013.4,646.5 2037.7,647.7 2062.0,644.0 2086.4,641.6 2110.7,638.0 2135.0,635.5 2159.4,633.1 2183.7,630.7 2204.4,631.9" stroke="#008000" stroke-width="3.5" stroke-dasharray="3.5 9.0"/>
<polyline points="1350.0,689.1 1520.4,685.2 1542.3,682.3 1555.6,679.9 1564.2,673.8 1576.3,651.9 1582.4,640.9 1588.5,628.8 1594.6,617.8 1603.1,608.1 1611.6,598.3 1617.7,587.4 1625.0,550.9 1629.9,538.7 1632.3,526.5 1636.0,514.4 1645.7,507.1 1655.4,498.6 1666.4,497.3 1678.5,501.0 1687.1,496.1 1690.7,484.0 1695.6,473.0 1700.4,459.6 1705.3,447.5 1710.2,436.5 1713.8,424.3 1717.5,412.2 1726.0,388.4 1729.6,376.2 1734.5,382.3 1740.6,394.5 1745.5,404.2 1750.3,416.4 1755.2,431.0 1761.3,445.6 1763.7,460.8 1773.5,492.5 1780.8,509.5 1785.8,526.0 1794.3,560.1 1806.5,586.9 1830.8,596.6 1843.0,601.5 1855.2,599.0 1867.3,597.8 1877.1,601.5 1884.4,612.4 1891.7,623.4 1901.4,629.4 1916.0,633.1 1940.4,638.0 1964.7,641.6 1989.0,645.3 2013.4,648.9 2037.7,647.7 2062.0,646.5 2086.4,644.0 2110.7,641.6 2135.0,638.0 2159.4,635.5 2183.7,635.5 2204.4,635.5" stroke="#ff0000" stroke-width="3.5" stroke-dasharray="3.5 9.0"/>
</g>
<line x1="1347.0" y1="104.0" x2="2203.5" y2="104.0" stroke="#a6a6a6" stroke-width="4.0"/>
<line x1="1351.5" y1="741.0" x2="2203.5" y2="741.0" stroke="#a6a6a6" stroke-width="4.0"/>
<line x1="1353.0" y1="104.0" x2="1353.0" y2="742.5" stroke="#505050" stroke-width="3.0"/>
<line x1="2202.0" y1="104.0" x2="2202.0" y2="742.5" stroke="#a6a6a6" stroke-width="4.0"/>
<line x1="1346.0" y1="741.0" x2="1353.0" y2="741.0" stroke="#555" stroke-width="2"/>
<text transform="translate(1345.5,756.5) scale(1.0,1.1)" font-size="43" text-anchor="end" fill="#111">0</text>
<line x1="1346.0" y1="613.6" x2="1353.0" y2="613.6" stroke="#555" stroke-width="2"/>
<text transform="translate(1345.5,629.1) scale(1.0,1.1)" font-size="43" text-anchor="end" fill="#111">50</text>
<line x1="1346.0" y1="486.2" x2="1353.0" y2="486.2" stroke="#555" stroke-width="2"/>
<text transform="translate(1345.5,501.7) scale(1.0,1.1)" font-size="43" text-anchor="end" fill="#111">100</text>
<line x1="1346.0" y1="358.8" x2="1353.0" y2="358.8" stroke="#555" stroke-width="2"/>
<text transform="translate(1345.5,374.3) scale(1.0,1.1)" font-size="43" text-anchor="end" fill="#111">150</text>
<line x1="1346.0" y1="231.4" x2="1353.0" y2="231.4" stroke="#555" stroke-width="2"/>
<text transform="translate(1345.5,246.9) scale(1.0,1.1)" font-size="43" text-anchor="end" fill="#111">200</text>
<line x1="1346.0" y1="104.0" x2="1353.0" y2="104.0" stroke="#555" stroke-width="2"/>
<text transform="translate(1345.5,119.5) scale(1.0,1.1)" font-size="43" text-anchor="end" fill="#111">250</text>
<line x1="1353.0" y1="741.0" x2="1353.0" y2="748.0" stroke="#888" stroke-width="2.2"/>
<text transform="translate(1353.0,780.0) scale(1.0,1.1)" font-size="43" text-anchor="middle" fill="#111">0</text>
<line x1="1588.8" y1="741.0" x2="1588.8" y2="748.0" stroke="#888" stroke-width="2.2"/>
<text transform="translate(1588.8,780.0) scale(1.0,1.1)" font-size="43" text-anchor="middle" fill="#111">10</text>
<line x1="1824.7" y1="741.0" x2="1824.7" y2="748.0" stroke="#888" stroke-width="2.2"/>
<text transform="translate(1824.7,780.0) scale(1.0,1.1)" font-size="43" text-anchor="middle" fill="#111">20</text>
<line x1="2060.5" y1="741.0" x2="2060.5" y2="748.0" stroke="#888" stroke-width="2.2"/>
<text transform="translate(2060.5,780.0) scale(1.0,1.1)" font-size="43" text-anchor="middle" fill="#111">30</text>
<line x1="2202.0" y1="104.0" x2="2209.0" y2="104.0" stroke="#888" stroke-width="2.2"/>
<text transform="translate(2208.0,119.5) scale(1.0,1.1)" font-size="43" text-anchor="start" fill="#111">0</text>
<line x1="2202.0" y1="263.2" x2="2209.0" y2="263.2" stroke="#888" stroke-width="2.2"/>
<text transform="translate(2208.0,278.8) scale(1.0,1.1)" font-size="43" text-anchor="start" fill="#111">5</text>
<line x1="2202.0" y1="422.5" x2="2209.0" y2="422.5" stroke="#888" stroke-width="2.2"/>
<text transform="translate(2208.0,438.0) scale(1.0,1.1)" font-size="43" text-anchor="start" fill="#111">10</text>
<line x1="2202.0" y1="581.8" x2="2209.0" y2="581.8" stroke="#888" stroke-width="2.2"/>
<text transform="translate(2208.0,597.2) scale(1.0,1.1)" font-size="43" text-anchor="start" fill="#111">15</text>
<line x1="2202.0" y1="741.0" x2="2209.0" y2="741.0" stroke="#888" stroke-width="2.2"/>
<text transform="translate(2208.0,756.5) scale(1.0,1.1)" font-size="43" text-anchor="start" fill="#111">20</text>
<text transform="translate(1779.5,824.0) scale(1.0,1.07)" font-size="45" text-anchor="middle" fill="#111">Time(hour)</text>
<text transform="translate(1779.5,893.0) scale(1.0,1.03)" font-size="44.5" text-anchor="middle" fill="#111">(b) 2020042100</text>
<text transform="translate(1265.0,419.5) rotate(-90)" font-size="45.5" text-anchor="middle" fill="#111">Forecasted Hour Runoff(m<tspan font-size="26" dy="-5">3</tspan><tspan dy="5">/s)</tspan></text>
<text transform="translate(2290.0,420.5) rotate(-90)" font-size="44.7" text-anchor="middle" fill="#111">Precipitation(mm)</text>
</g>
<g id="panel-c">
<clipPath id="clipc"><rect x="163.0" y="969.0" width="851.0" height="636.5"/></clipPath>
<g clip-path="url(#clipc)">
<rect x="213.5" y="969.0" width="12.5" height="104.4" fill="#c9d9f8"/>
<rect x="227.7" y="969.0" width="12.5" height="357.9" fill="#c9d9f8"/>
<rect x="241.8" y="969.0" width="12.5" height="249.7" fill="#c9d9f8"/>
<rect x="256.0" y="969.0" width="12.5" height="50.9" fill="#c9d9f8"/>
<rect x="270.2" y="969.0" width="12.5" height="53.3" fill="#c9d9f8"/>
<rect x="284.4" y="969.0" width="12.5" height="4.7" fill="#c9d9f8"/>
<rect x="326.9" y="969.0" width="12.5" height="3.6" fill="#c9d9f8"/>
<rect x="369.5" y="969.0" width="12.5" height="5.7" fill="#c9d9f8"/>
<rect x="383.7" y="969.0" width="12.5" height="7.2" fill="#c9d9f8"/>
<rect x="397.9" y="969.0" width="12.5" height="3.6" fill="#c9d9f8"/>
<rect x="412.0" y="969.0" width="12.5" height="4.0" fill="#c9d9f8"/>
<rect x="426.2" y="969.0" width="12.5" height="4.0" fill="#c9d9f8"/>
<rect x="440.4" y="969.0" width="12.5" height="4.0" fill="#c9d9f8"/>
<rect x="468.8" y="969.0" width="12.5" height="5.7" fill="#c9d9f8"/>
<rect x="483.0" y="969.0" width="12.5" height="3.6" fill="#c9d9f8"/>
<rect x="497.1" y="969.0" width="12.5" height="3.6" fill="#c9d9f8"/>
<rect x="511.3" y="969.0" width="12.5" height="5.7" fill="#c9d9f8"/>
<rect x="568.1" y="969.0" width="12.5" height="12.3" fill="#c9d9f8"/>
<rect x="582.2" y="969.0" width="12.5" height="101.2" fill="#c9d9f8"/>
<rect x="596.4" y="969.0" width="12.5" height="121.2" fill="#c9d9f8"/>
<rect x="610.6" y="969.0" width="12.5" height="60.3" fill="#c9d9f8"/>
<rect x="624.8" y="969.0" width="12.5" height="12.3" fill="#c9d9f8"/>
<rect x="639.0" y="969.0" width="12.5" height="18.5" fill="#c9d9f8"/>
<rect x="653.2" y="969.0" width="12.5" height="48.2" fill="#c9d9f8"/>
<rect x="667.3" y="969.0" width="12.5" height="45.6" fill="#c9d9f8"/>
<rect x="681.5" y="969.0" width="12.5" height="5.7" fill="#c9d9f8"/>
<rect x="724.1" y="969.0" width="12.5" height="3.0" fill="#c9d9f8"/>
<rect x="738.3" y="969.0" width="12.5" height="7.9" fill="#c9d9f8"/>
<rect x="752.4" y="969.0" width="12.5" height="4.5" fill="#c9d9f8"/>
<rect x="795.0" y="969.0" width="12.5" height="12.3" fill="#c9d9f8"/>
<rect x="823.4" y="969.0" width="12.5" height="3.0" fill="#c9d9f8"/>
<rect x="922.6" y="969.0" width="12.5" height="5.7" fill="#c9d9f8"/>
<rect x="936.8" y="969.0" width="12.5" height="15.1" fill="#c9d9f8"/>
<rect x="951.0" y="969.0" width="12.5" height="4.5" fill="#c9d9f8"/>
<rect x="965.2" y="969.0" width="12.5" height="3.0" fill="#c9d9f8"/>
<rect x="215.0" y="969.0" width="9.5" height="102.9" fill="#6495ed"/>
<rect x="229.2" y="969.0" width="9.5" height="356.4" fill="#6495ed"/>
<rect x="243.3" y="969.0" width="9.5" height="248.2" fill="#6495ed"/>
<rect x="257.5" y="969.0" width="9.5" height="49.4" fill="#6495ed"/>
<rect x="271.7" y="969.0" width="9.5" height="51.8" fill="#6495ed"/>
<rect x="285.9" y="969.0" width="9.5" height="3.2" fill="#6495ed"/>
<rect x="328.4" y="969.0" width="9.5" height="2.1" fill="#6495ed"/>
<rect x="371.0" y="969.0" width="9.5" height="4.2" fill="#6495ed"/>
<rect x="385.2" y="969.0" width="9.5" height="5.7" fill="#6495ed"/>
<rect x="399.4" y="969.0" width="9.5" height="2.1" fill="#6495ed"/>
<rect x="413.5" y="969.0" width="9.5" height="2.5" fill="#6495ed"/>
<rect x="427.7" y="969.0" width="9.5" height="2.5" fill="#6495ed"/>
<rect x="441.9" y="969.0" width="9.5" height="2.5" fill="#6495ed"/>
<rect x="470.3" y="969.0" width="9.5" height="4.2" fill="#6495ed"/>
<rect x="484.5" y="969.0" width="9.5" height="2.1" fill="#6495ed"/>
<rect x="498.6" y="969.0" width="9.5" height="2.1" fill="#6495ed"/>
<rect x="512.8" y="969.0" width="9.5" height="4.2" fill="#6495ed"/>
<rect x="569.6" y="969.0" width="9.5" height="10.8" fill="#6495ed"/>
<rect x="583.7" y="969.0" width="9.5" height="99.7" fill="#6495ed"/>
<rect x="597.9" y="969.0" width="9.5" height="119.7" fill="#6495ed"/>
<rect x="612.1" y="969.0" width="9.5" height="58.8" fill="#6495ed"/>
<rect x="626.3" y="969.0" width="9.5" height="10.8" fill="#6495ed"/>
<rect x="640.5" y="969.0" width="9.5" height="17.0" fill="#6495ed"/>
<rect x="654.7" y="969.0" width="9.5" height="46.7" fill="#6495ed"/>
<rect x="668.8" y="969.0" width="9.5" height="44.1" fill="#6495ed"/>
<rect x="683.0" y="969.0" width="9.5" height="4.2" fill="#6495ed"/>
<rect x="725.6" y="969.0" width="9.5" height="1.5" fill="#6495ed"/>
<rect x="739.8" y="969.0" width="9.5" height="6.4" fill="#6495ed"/>
<rect x="753.9" y="969.0" width="9.5" height="3.0" fill="#6495ed"/>
<rect x="796.5" y="969.0" width="9.5" height="10.8" fill="#6495ed"/>
<rect x="824.9" y="969.0" width="9.5" height="1.5" fill="#6495ed"/>
<rect x="924.1" y="969.0" width="9.5" height="4.2" fill="#6495ed"/>
<rect x="938.3" y="969.0" width="9.5" height="13.6" fill="#6495ed"/>
<rect x="952.5" y="969.0" width="9.5" height="3.0" fill="#6495ed"/>
<rect x="966.7" y="969.0" width="9.5" height="1.5" fill="#6495ed"/>
</g>
<g clip-path="url(#clipc)" fill="none">
<polyline points="163.7,1555.2 208.7,1556.4 257.3,1556.4 293.8,1555.2 315.8,1551.5 330.4,1539.3 340.1,1512.6 347.4,1473.6 352.3,1439.6 359.6,1386.0 366.9,1337.3 371.7,1300.8 374.2,1276.4 380.2,1239.9 386.3,1208.2 393.6,1193.6 400.9,1183.9 408.2,1180.2 415.5,1182.7 422.8,1188.8 430.1,1200.9 437.4,1215.5 444.7,1230.1 452.0,1244.7 459.3,1259.3 466.6,1273.9 476.4,1296.0 488.5,1320.3 500.7,1344.6 512.9,1373.8 525.0,1410.4 529.9,1429.8 539.6,1437.1 554.2,1439.6 573.7,1442.0 585.9,1449.3 592.2,1459.0 604.3,1468.8 616.5,1477.3 628.7,1485.8 640.8,1493.1 653.0,1505.3 665.2,1517.4 677.3,1527.2 689.5,1533.3 701.7,1535.7 713.8,1534.5 723.6,1527.2 730.9,1507.7 735.8,1471.2 740.6,1434.7 747.9,1386.0 752.8,1349.5 757.7,1330.0 765.0,1313.0 774.7,1298.4 784.4,1288.7 791.7,1287.5 799.0,1293.5 808.8,1305.7 818.5,1322.7 828.2,1342.2 838.0,1361.7 847.7,1381.2 857.4,1400.6 867.2,1415.2 876.9,1422.5 886.6,1425.0 896.4,1427.4 908.5,1432.3 920.7,1442.0 932.9,1456.6 945.0,1468.8 957.2,1478.5 969.4,1485.8 981.5,1490.7 993.7,1494.3 1014.4,1499.2" stroke="#cdcdcd" stroke-width="7.5" stroke-linejoin="round"/>
<polyline points="163.7,1552.7 179.5,1556.4 194.1,1562.5 206.2,1560.0 218.4,1556.4 230.6,1566.1 240.3,1573.4 250.0,1580.7 257.3,1590.4 269.5,1590.4 281.7,1585.6 289.0,1578.3 296.3,1567.3 306.0,1553.9 315.8,1535.7 325.5,1512.6 330.4,1500.4 334.0,1488.2 345.0,1473.6 354.7,1454.2 366.9,1442.0 379.0,1395.8 386.3,1366.5 393.6,1330.0 397.3,1303.3 399.7,1293.4 404.6,1267.9 409.4,1242.3 413.1,1230.1 418.0,1207.0 425.3,1193.6 432.6,1188.8 437.4,1203.4 439.9,1227.7 442.3,1252.0 444.7,1264.2 450.8,1273.9 464.2,1296.0 476.4,1320.3 488.5,1349.5 500.7,1371.4 512.9,1388.5 522.6,1398.2 529.9,1407.9 539.6,1417.7 551.8,1427.4 564.0,1432.3 573.7,1432.3 585.9,1446.9 589.7,1446.9 604.3,1459.0 623.8,1483.4 636.0,1485.8 648.1,1493.1 662.7,1493.1 672.5,1500.4 684.6,1495.5 696.8,1505.3 706.5,1512.6 718.7,1512.6 729.7,1507.7 735.8,1498.0 741.8,1483.4 750.4,1459.0 757.7,1434.7 762.5,1410.4 767.4,1386.0 772.3,1356.8 777.1,1332.5 784.4,1310.6 791.7,1296.0 802.7,1305.7 813.6,1310.6 823.4,1324.0 833.1,1342.2 842.8,1361.7 852.6,1386.0 862.3,1410.4 872.0,1422.5 884.2,1432.3 896.4,1434.7 908.5,1432.3 918.3,1432.3 928.0,1423.7 940.2,1428.6 946.3,1439.6 952.3,1449.3 959.6,1459.0 971.8,1478.5 984.0,1488.2 998.6,1495.5 1014.4,1499.2" stroke="#ff8c00" stroke-width="3.5" stroke-dasharray="3.5 9.0"/>
<polyline points="163.7,1546.6 177.0,1545.4 189.2,1543.0 202.6,1545.4 214.8,1551.5 225.7,1553.9 240.3,1540.6 247.6,1528.4 253.7,1539.3 259.8,1551.5 262.2,1563.7 273.2,1571.0 280.5,1581.9 286.5,1592.9 293.8,1597.7 301.2,1599.0 304.8,1590.4 313.3,1580.7 320.6,1575.8 324.3,1563.7 327.9,1551.5 345.0,1507.7 354.7,1483.4 362.0,1468.8 371.7,1444.4 379.0,1422.5 383.9,1398.2 390.0,1359.2 397.3,1313.0 405.8,1264.3 413.1,1261.8 418.0,1247.2 422.8,1235.0 427.7,1222.8 432.6,1220.4 437.4,1227.7 439.9,1237.4 447.2,1252.0 454.5,1266.6 461.8,1281.2 469.1,1295.8 476.4,1312.9 488.5,1337.3 500.7,1361.7 512.9,1390.9 525.0,1415.2 539.6,1434.7 551.8,1442.0 571.3,1456.6 585.9,1446.9 594.6,1459.0 614.1,1489.4 621.4,1493.1 636.0,1501.6 650.6,1506.5 660.3,1505.3 670.0,1498.0 682.2,1493.1 694.4,1490.7 706.5,1494.3 717.5,1500.4 726.0,1498.0 735.8,1495.5 750.4,1471.2 760.1,1454.2 766.2,1440.8 769.8,1428.6 773.5,1416.4 777.1,1404.3 779.6,1392.1 782.0,1379.9 785.6,1367.8 789.3,1355.6 792.9,1343.4 796.6,1331.3 800.2,1319.1 807.5,1310.6 814.8,1305.7 829.4,1297.2 838.0,1306.9 844.0,1317.9 847.7,1330.0 850.1,1342.2 853.8,1354.4 856.2,1366.5 861.1,1378.7 867.2,1389.7 872.0,1401.8 879.3,1412.8 886.6,1422.5 896.4,1429.8 911.0,1446.9 920.7,1449.3 935.3,1451.7 949.9,1451.7 959.6,1454.2 964.5,1463.9 974.2,1476.1 988.8,1490.7 996.2,1505.3 1005.9,1508.9 1014.4,1500.4" stroke="#6495ed" stroke-width="3.5" stroke-dasharray="3.5 9.0"/>
<polyline points="163.7,1541.8 175.8,1534.5 184.3,1543.0 211.1,1543.0 218.4,1533.3 223.3,1540.6 230.6,1563.7 237.9,1569.8 244.0,1575.8 250.0,1583.1 257.3,1590.4 263.4,1600.2 275.6,1600.2 287.8,1600.2 301.2,1600.2 308.5,1592.9 314.5,1583.1 319.4,1571.0 323.1,1558.8 330.4,1527.2 340.1,1498.0 347.4,1473.6 352.3,1461.5 362.0,1434.7 371.7,1410.4 379.0,1386.0 386.3,1361.7 393.6,1337.3 400.9,1313.0 403.4,1305.6 408.2,1281.2 414.3,1256.9 418.0,1244.7 422.8,1232.6 427.7,1221.6 432.6,1218.0 439.9,1222.8 449.6,1230.1 458.1,1238.7 465.4,1246.0 471.5,1256.9 476.4,1269.1 478.8,1281.2 481.2,1293.4 484.9,1305.6 487.3,1317.7 492.2,1330.0 499.5,1347.1 506.8,1356.8 515.3,1347.1 522.6,1349.5 527.5,1360.5 532.3,1372.6 537.2,1384.8 540.9,1397.0 546.9,1407.9 551.8,1420.1 559.1,1431.0 568.8,1434.7 583.5,1466.3 590.8,1474.8 601.9,1468.8 614.1,1490.7 623.8,1498.0 636.0,1502.8 648.1,1501.6 660.3,1498.0 672.5,1483.4 678.6,1473.6 684.6,1460.2 690.7,1454.2 699.2,1462.7 709.0,1470.0 718.7,1479.7 724.8,1489.4 730.9,1499.2 738.2,1493.1 745.5,1480.9 750.4,1459.0 757.7,1434.7 765.0,1420.1 767.4,1407.9 771.0,1395.8 774.7,1383.6 779.6,1371.4 784.4,1359.2 791.7,1351.9 802.7,1355.6 814.8,1361.7 823.4,1353.2 835.5,1356.8 845.3,1379.9 850.1,1390.9 855.0,1403.1 862.3,1412.8 874.5,1420.1 886.6,1450.5 898.8,1451.7 908.5,1461.5 917.1,1467.5 926.8,1457.8 937.7,1463.9 949.9,1471.2 962.1,1478.5 974.2,1483.4 988.8,1473.6 1001.0,1468.8 1008.3,1479.7 1014.4,1491.9" stroke="#bfbf00" stroke-width="3.5" stroke-dasharray="3.5 9.0"/>
<polyline points="163.7,1551.5 189.2,1548.6 225.7,1550.3 237.9,1546.6 251.3,1544.2 262.2,1539.3 274.4,1534.5 286.5,1532.0 297.5,1527.2 308.5,1521.1 320.6,1517.4 330.4,1513.8 352.3,1507.7 364.4,1508.9 376.6,1507.7 388.8,1506.5 397.3,1498.0 405.8,1488.2 418.0,1493.1 430.1,1495.0 442.3,1493.1 454.5,1494.3 467.9,1494.3 480.0,1491.2 492.2,1491.2 501.9,1498.0 512.9,1504.0 525.0,1504.8 537.2,1504.0 549.4,1506.5 559.1,1500.4 568.8,1507.7 578.6,1513.8 589.5,1508.9 589.7,1508.9 601.9,1506.5 614.1,1504.0 627.5,1505.3 638.4,1499.2 648.1,1493.1 657.9,1485.8 670.0,1479.7 682.2,1479.7 694.4,1479.7 706.5,1479.7 717.5,1479.7 728.5,1471.2 740.6,1470.0 750.4,1467.5 762.5,1465.1 774.7,1468.8 786.9,1463.9 799.0,1460.2 811.2,1461.5 823.4,1466.3 833.1,1465.1 840.4,1455.4 848.9,1455.4 859.9,1461.5 870.8,1457.8 880.6,1465.1 892.7,1470.0 904.9,1470.0 917.1,1467.5 929.2,1470.0 942.6,1473.6 954.8,1478.5 966.9,1476.1 977.9,1473.6 991.3,1473.6 1003.5,1473.6 1014.4,1477.3" stroke="#c000c0" stroke-width="3.5" stroke-dasharray="3.5 9.0"/>
<polyline points="163.0,1558.6 177.2,1556.4 191.4,1548.3 205.6,1556.2 219.7,1557.1 233.9,1554.7 248.1,1554.1 262.3,1559.9 276.5,1556.8 290.6,1552.8 304.8,1554.4 319.0,1552.7 333.2,1542.7 347.4,1529.8 361.6,1463.9 375.8,1366.9 389.9,1259.9 404.1,1216.6 418.3,1199.0 432.5,1200.1 446.7,1212.6 460.9,1237.0 475.0,1261.2 489.2,1301.2 503.4,1322.1 517.6,1355.4 531.8,1394.4 546.0,1430.6 560.1,1441.7 574.3,1448.1 588.5,1446.9 602.7,1464.9 616.9,1477.4 631.0,1485.0 645.2,1493.8 659.4,1498.5 673.6,1516.2 687.8,1531.2 702.0,1535.8 716.1,1538.5 730.3,1535.6 744.5,1500.1 758.7,1402.7 772.9,1334.8 787.1,1304.9 801.2,1298.5 815.4,1305.1 829.6,1323.7 843.8,1347.2 858.0,1376.4 872.2,1399.7 886.4,1418.7 900.5,1424.0 914.7,1428.3 928.9,1443.0 943.1,1454.0 957.3,1469.0 971.5,1478.7 985.6,1491.5 999.8,1487.1 1014.0,1495.8" stroke="#00bfff" stroke-width="3.5" stroke-dasharray="3.5 9.0"/>
<polyline points="163.7,1553.9 291.4,1551.5 301.2,1545.4 313.3,1547.9 325.5,1546.6 335.2,1544.2 342.5,1533.3 348.6,1522.3 354.7,1498.0 359.6,1485.8 364.4,1459.0 369.3,1434.7 374.2,1410.4 379.0,1386.0 382.7,1361.7 386.3,1337.3 390.0,1300.8 391.2,1295.8 393.6,1261.8 394.8,1235.0 397.3,1210.7 400.9,1197.3 403.4,1183.9 408.2,1174.2 414.3,1163.2 422.8,1162.0 431.3,1172.9 436.2,1183.9 441.1,1194.8 444.7,1207.0 448.4,1219.2 452.0,1230.1 455.7,1243.5 460.6,1255.7 464.2,1269.1 469.1,1281.2 476.4,1303.3 488.5,1332.5 500.7,1356.8 512.9,1386.0 522.6,1410.4 529.9,1432.3 536.0,1442.0 544.5,1452.9 556.7,1449.3 568.8,1445.6 581.0,1445.6 593.2,1451.7 604.3,1463.9 616.5,1472.4 628.7,1480.9 640.8,1488.2 650.6,1494.3 660.3,1502.8 670.0,1511.3 679.8,1518.7 691.9,1524.7 704.1,1529.6 716.3,1533.3 728.5,1534.5 735.8,1524.7 745.5,1515.0 746.7,1502.8 747.9,1488.2 750.4,1476.1 752.8,1463.9 755.2,1451.7 757.7,1439.6 760.1,1427.4 762.5,1414.0 765.0,1401.8 767.4,1389.7 768.6,1376.3 769.8,1365.3 771.0,1351.9 772.3,1339.8 773.5,1326.4 775.9,1313.0 780.8,1302.1 784.4,1289.9 789.3,1278.9 800.2,1274.1 808.8,1283.8 814.8,1296.0 819.7,1305.7 825.8,1317.9 831.9,1330.0 835.5,1341.0 840.4,1353.2 845.3,1365.3 850.1,1377.5 853.8,1388.5 858.7,1400.6 864.7,1410.4 869.6,1422.5 876.9,1432.3 885.4,1442.0 898.8,1440.8 911.0,1438.3 923.1,1442.0 932.9,1449.3 940.2,1460.2 947.5,1468.8 957.2,1477.3 969.4,1483.4 981.5,1489.4 993.7,1493.1 1014.4,1498.0" stroke="#008000" stroke-width="3.5" stroke-dasharray="3.5 9.0"/>
<polyline points="163.0,1559.0 177.2,1560.7 191.4,1556.5 205.6,1556.3 219.7,1558.6 233.9,1556.1 248.1,1558.4 262.3,1554.6 276.5,1558.4 290.6,1555.8 304.8,1552.1 319.0,1544.7 333.2,1549.6 347.4,1525.2 361.6,1456.7 375.8,1352.2 389.9,1256.6 404.1,1203.0 418.3,1188.6 432.5,1196.6 446.7,1217.5 460.9,1242.2 475.0,1274.9 489.2,1303.6 503.4,1328.7 517.6,1357.4 531.8,1397.0 546.0,1438.7 560.1,1439.1 574.3,1435.6 588.5,1437.7 602.7,1451.2 616.9,1464.8 631.0,1470.8 645.2,1486.1 659.4,1501.6 673.6,1516.0 687.8,1521.5 702.0,1532.7 716.1,1531.7 730.3,1532.2 744.5,1487.8 758.7,1392.7 772.9,1324.6 787.1,1295.6 801.2,1293.0 815.4,1307.6 829.6,1325.8 843.8,1350.7 858.0,1375.4 872.2,1407.3 886.4,1426.6 900.5,1426.5 914.7,1430.1 928.9,1439.1 943.1,1451.0 957.3,1468.5 971.5,1477.6 985.6,1491.3 999.8,1490.0 1014.0,1489.7" stroke="#ff0000" stroke-width="3.5" stroke-dasharray="3.5 9.0"/>
</g>
<line x1="157.0" y1="969.0" x2="1015.5" y2="969.0" stroke="#a6a6a6" stroke-width="4.0"/>
<line x1="161.5" y1="1605.5" x2="1015.5" y2="1605.5" stroke="#a6a6a6" stroke-width="4.0"/>
<line x1="163.0" y1="969.0" x2="163.0" y2="1607.0" stroke="#a6a6a6" stroke-width="4.0"/>
<line x1="1014.0" y1="969.0" x2="1014.0" y2="1607.0" stroke="#a6a6a6" stroke-width="4.0"/>
<line x1="156.0" y1="1605.5" x2="163.0" y2="1605.5" stroke="#555" stroke-width="2"/>
<text transform="translate(155.5,1621.0) scale(1.0,1.1)" font-size="43" text-anchor="end" fill="#111">0</text>
<line x1="156.0" y1="1478.2" x2="163.0" y2="1478.2" stroke="#555" stroke-width="2"/>
<text transform="translate(155.5,1493.7) scale(1.0,1.1)" font-size="43" text-anchor="end" fill="#111">100</text>
<line x1="156.0" y1="1350.9" x2="163.0" y2="1350.9" stroke="#555" stroke-width="2"/>
<text transform="translate(155.5,1366.4) scale(1.0,1.1)" font-size="43" text-anchor="end" fill="#111">200</text>
<line x1="156.0" y1="1223.6" x2="163.0" y2="1223.6" stroke="#555" stroke-width="2"/>
<text transform="translate(155.5,1239.1) scale(1.0,1.1)" font-size="43" text-anchor="end" fill="#111">300</text>
<line x1="156.0" y1="1096.3" x2="163.0" y2="1096.3" stroke="#555" stroke-width="2"/>
<text transform="translate(155.5,1111.8) scale(1.0,1.1)" font-size="43" text-anchor="end" fill="#111">400</text>
<line x1="156.0" y1="969.0" x2="163.0" y2="969.0" stroke="#555" stroke-width="2"/>
<text transform="translate(155.5,984.5) scale(1.0,1.1)" font-size="43" text-anchor="end" fill="#111">500</text>
<line x1="163.0" y1="1605.5" x2="163.0" y2="1612.5" stroke="#888" stroke-width="2.2"/>
<text transform="translate(163.0,1644.5) scale(1.0,1.1)" font-size="43" text-anchor="middle" fill="#111">0</text>
<line x1="304.8" y1="1605.5" x2="304.8" y2="1612.5" stroke="#888" stroke-width="2.2"/>
<text transform="translate(304.8,1644.5) scale(1.0,1.1)" font-size="43" text-anchor="middle" fill="#111">10</text>
<line x1="446.7" y1="1605.5" x2="446.7" y2="1612.5" stroke="#888" stroke-width="2.2"/>
<text transform="translate(446.7,1644.5) scale(1.0,1.1)" font-size="43" text-anchor="middle" fill="#111">20</text>
<line x1="588.5" y1="1605.5" x2="588.5" y2="1612.5" stroke="#888" stroke-width="2.2"/>
<text transform="translate(588.5,1644.5) scale(1.0,1.1)" font-size="43" text-anchor="middle" fill="#111">30</text>
<line x1="730.3" y1="1605.5" x2="730.3" y2="1612.5" stroke="#888" stroke-width="2.2"/>
<text transform="translate(730.3,1644.5) scale(1.0,1.1)" font-size="43" text-anchor="middle" fill="#111">40</text>
<line x1="872.2" y1="1605.5" x2="872.2" y2="1612.5" stroke="#888" stroke-width="2.2"/>
<text transform="translate(872.2,1644.5) scale(1.0,1.1)" font-size="43" text-anchor="middle" fill="#111">50</text>
<line x1="1014.0" y1="1605.5" x2="1014.0" y2="1612.5" stroke="#888" stroke-width="2.2"/>
<text transform="translate(1014.0,1644.5) scale(1.0,1.1)" font-size="43" text-anchor="middle" fill="#111">60</text>
<line x1="1014.0" y1="969.0" x2="1021.0" y2="969.0" stroke="#888" stroke-width="2.2"/>
<text transform="translate(1020.0,984.5) scale(1.0,1.1)" font-size="43" text-anchor="start" fill="#111">0</text>
<line x1="1014.0" y1="1075.1" x2="1021.0" y2="1075.1" stroke="#888" stroke-width="2.2"/>
<text transform="translate(1020.0,1090.6) scale(1.0,1.1)" font-size="43" text-anchor="start" fill="#111">5</text>
<line x1="1014.0" y1="1181.2" x2="1021.0" y2="1181.2" stroke="#888" stroke-width="2.2"/>
<text transform="translate(1020.0,1196.7) scale(1.0,1.1)" font-size="43" text-anchor="start" fill="#111">10</text>
<line x1="1014.0" y1="1287.2" x2="1021.0" y2="1287.2" stroke="#888" stroke-width="2.2"/>
<text transform="translate(1020.0,1302.8) scale(1.0,1.1)" font-size="43" text-anchor="start" fill="#111">15</text>
<line x1="1014.0" y1="1393.3" x2="1021.0" y2="1393.3" stroke="#888" stroke-width="2.2"/>
<text transform="translate(1020.0,1408.8) scale(1.0,1.1)" font-size="43" text-anchor="start" fill="#111">20</text>
<line x1="1014.0" y1="1499.4" x2="1021.0" y2="1499.4" stroke="#888" stroke-width="2.2"/>
<text transform="translate(1020.0,1514.9) scale(1.0,1.1)" font-size="43" text-anchor="start" fill="#111">25</text>
<line x1="1014.0" y1="1605.5" x2="1021.0" y2="1605.5" stroke="#888" stroke-width="2.2"/>
<text transform="translate(1020.0,1621.0) scale(1.0,1.1)" font-size="43" text-anchor="start" fill="#111">30</text>
<text transform="translate(590.5,1688.5) scale(1.0,1.07)" font-size="45" text-anchor="middle" fill="#111">Time(hour)</text>
<text transform="translate(590.5,1757.5) scale(1.0,1.03)" font-size="44.5" text-anchor="middle" fill="#111">(c) 2020060800</text>
<text transform="translate(75.0,1284.2) rotate(-90)" font-size="45.5" text-anchor="middle" fill="#111">Forecasted Hour Runoff(m<tspan font-size="26" dy="-5">3</tspan><tspan dy="5">/s)</tspan></text>
<text transform="translate(1102.0,1285.2) rotate(-90)" font-size="44.7" text-anchor="middle" fill="#111">Precipitation(mm)</text>
</g>
<g id="panel-d">
<clipPath id="clipd"><rect x="1390.6" y="969.5" width="850.7000000000003" height="636.0"/></clipPath>
<g clip-path="url(#clipd)">
<rect x="1425.8" y="969.5" width="11.9" height="7.9" fill="#c9d9f8"/>
<rect x="1453.2" y="969.5" width="11.9" height="3.6" fill="#c9d9f8"/>
<rect x="1467.0" y="969.5" width="11.9" height="190.8" fill="#c9d9f8"/>
<rect x="1480.7" y="969.5" width="11.9" height="387.3" fill="#c9d9f8"/>
<rect x="1494.4" y="969.5" width="11.9" height="213.5" fill="#c9d9f8"/>
<rect x="1508.1" y="969.5" width="11.9" height="26.9" fill="#c9d9f8"/>
<rect x="1521.9" y="969.5" width="11.9" height="5.7" fill="#c9d9f8"/>
<rect x="1535.6" y="969.5" width="11.9" height="3.6" fill="#c9d9f8"/>
<rect x="1590.5" y="969.5" width="11.9" height="3.6" fill="#c9d9f8"/>
<rect x="1604.2" y="969.5" width="11.9" height="3.6" fill="#c9d9f8"/>
<rect x="1617.9" y="969.5" width="11.9" height="4.7" fill="#c9d9f8"/>
<rect x="1796.3" y="969.5" width="11.9" height="138.0" fill="#c9d9f8"/>
<rect x="1810.0" y="969.5" width="11.9" height="50.5" fill="#c9d9f8"/>
<rect x="1823.7" y="969.5" width="11.9" height="6.6" fill="#c9d9f8"/>
<rect x="1837.4" y="969.5" width="11.9" height="67.0" fill="#c9d9f8"/>
<rect x="1851.2" y="969.5" width="11.9" height="27.4" fill="#c9d9f8"/>
<rect x="1864.9" y="969.5" width="11.9" height="5.1" fill="#c9d9f8"/>
<rect x="1878.6" y="969.5" width="11.9" height="5.1" fill="#c9d9f8"/>
<rect x="1427.3" y="969.5" width="8.9" height="6.4" fill="#6495ed"/>
<rect x="1454.7" y="969.5" width="8.9" height="2.1" fill="#6495ed"/>
<rect x="1468.5" y="969.5" width="8.9" height="189.3" fill="#6495ed"/>
<rect x="1482.2" y="969.5" width="8.9" height="385.8" fill="#6495ed"/>
<rect x="1495.9" y="969.5" width="8.9" height="212.0" fill="#6495ed"/>
<rect x="1509.6" y="969.5" width="8.9" height="25.4" fill="#6495ed"/>
<rect x="1523.4" y="969.5" width="8.9" height="4.2" fill="#6495ed"/>
<rect x="1537.1" y="969.5" width="8.9" height="2.1" fill="#6495ed"/>
<rect x="1592.0" y="969.5" width="8.9" height="2.1" fill="#6495ed"/>
<rect x="1605.7" y="969.5" width="8.9" height="2.1" fill="#6495ed"/>
<rect x="1619.4" y="969.5" width="8.9" height="3.2" fill="#6495ed"/>
<rect x="1797.8" y="969.5" width="8.9" height="136.5" fill="#6495ed"/>
<rect x="1811.5" y="969.5" width="8.9" height="49.0" fill="#6495ed"/>
<rect x="1825.2" y="969.5" width="8.9" height="5.1" fill="#6495ed"/>
<rect x="1838.9" y="969.5" width="8.9" height="65.5" fill="#6495ed"/>
<rect x="1852.7" y="969.5" width="8.9" height="25.9" fill="#6495ed"/>
<rect x="1866.4" y="969.5" width="8.9" height="3.6" fill="#6495ed"/>
<rect x="1880.1" y="969.5" width="8.9" height="3.6" fill="#6495ed"/>
</g>
<g clip-path="url(#clipd)" fill="none">
<polyline points="1390.6,1556.9 1458.0,1556.9 1506.7,1556.4 1555.4,1553.5 1579.7,1550.3 1596.7,1542.3 1606.5,1529.6 1613.8,1510.2 1618.6,1490.7 1624.7,1466.4 1628.4,1442.0 1633.2,1412.8 1638.1,1383.6 1643.0,1356.9 1649.0,1335.0 1655.1,1325.2 1664.9,1317.9 1672.2,1325.2 1679.5,1339.8 1686.8,1356.9 1694.1,1369.0 1701.4,1378.8 1711.1,1388.5 1725.7,1403.1 1737.9,1415.3 1750.0,1427.4 1762.2,1439.6 1774.4,1449.3 1786.5,1456.6 1798.7,1461.5 1805.0,1466.4 1829.3,1473.7 1853.7,1478.5 1878.0,1481.0 1897.5,1478.5 1907.2,1468.8 1916.9,1451.8 1931.5,1437.2 1951.0,1429.9 1970.5,1432.3 1990.0,1442.0 2004.6,1454.2 2019.2,1466.4 2036.2,1476.1 2060.5,1483.4 2084.9,1488.3 2109.2,1490.7 2133.5,1493.1 2157.9,1495.6 2182.2,1500.4 2206.5,1507.7 2218.7,1512.6 2241.8,1518.0" stroke="#cdcdcd" stroke-width="7.5" stroke-linejoin="round"/>
<polyline points="1390.6,1549.1 1460.4,1549.1 1472.6,1563.7 1479.9,1578.3 1484.8,1590.5 1540.8,1590.5 1545.6,1573.5 1555.4,1546.7 1565.1,1561.3 1570.0,1567.4 1577.3,1527.2 1582.1,1505.3 1587.0,1454.2 1591.9,1403.1 1595.5,1369.0 1599.2,1393.4 1604.0,1417.7 1608.9,1442.0 1616.2,1471.2 1623.5,1483.4 1630.8,1442.0 1635.7,1393.4 1640.5,1344.7 1645.4,1300.9 1650.3,1266.8 1655.1,1276.5 1662.4,1281.4 1669.7,1252.2 1677.0,1224.2 1679.5,1240.0 1681.9,1259.5 1686.8,1349.6 1689.2,1376.3 1692.9,1388.5 1698.9,1381.2 1706.2,1373.9 1713.5,1393.4 1720.8,1410.4 1728.1,1417.7 1735.4,1429.9 1740.3,1442.0 1750.0,1456.6 1762.2,1442.0 1774.4,1442.0 1786.5,1442.0 1796.3,1403.1 1801.2,1378.8 1806.0,1417.7 1810.9,1490.7 1813.3,1539.4 1815.8,1563.7 1820.6,1551.5 1826.9,1527.2 1831.8,1507.7 1836.6,1485.8 1841.5,1442.0 1846.4,1420.1 1853.7,1417.7 1857.3,1429.9 1861.0,1466.4 1865.8,1515.0 1870.7,1563.7 1875.6,1585.6 1882.9,1549.1 1890.2,1544.2 1898.7,1551.5 1904.8,1566.2 1912.1,1583.2 1919.4,1590.5 1929.1,1571.0 1937.6,1551.5 1943.7,1532.1 1946.2,1498.0 1948.6,1456.6 1951.0,1432.3 1960.8,1416.5 1970.5,1423.8 1977.8,1434.7 1985.1,1457.9 1999.7,1468.8 2007.0,1476.1 2011.9,1488.3 2014.3,1500.4 2016.7,1512.6 2019.2,1522.3 2025.2,1535.7 2032.5,1544.2 2041.1,1554.0 2050.8,1545.5 2063.0,1532.1 2070.3,1568.6 2077.6,1578.3 2084.9,1563.7 2092.2,1554.0 2097.0,1532.1 2099.5,1515.0 2101.9,1502.9 2114.1,1505.3 2126.2,1512.6 2136.0,1507.7 2143.3,1462.7 2150.6,1471.2 2155.4,1478.5 2162.7,1502.9 2170.0,1539.4 2177.3,1549.1 2184.6,1539.4 2189.5,1522.3 2194.4,1502.9 2204.1,1490.7 2216.3,1493.1 2226.0,1495.6 2241.8,1490.7" stroke="#ff8c00" stroke-width="3.5" stroke-dasharray="3.5 9.0"/>
<polyline points="1390.6,1556.4 1467.7,1558.8 1472.6,1568.6 1477.5,1575.9 1492.1,1561.3 1516.4,1561.3 1543.2,1561.3 1555.4,1551.5 1565.1,1473.7 1570.0,1444.5 1574.8,1420.1 1579.7,1395.8 1584.6,1371.5 1590.6,1344.7 1594.3,1320.4 1606.5,1317.9 1611.3,1327.7 1615.0,1339.8 1617.4,1352.0 1618.6,1364.2 1622.3,1378.8 1628.4,1380.0 1635.7,1371.5 1638.1,1359.3 1640.5,1344.7 1644.2,1332.5 1646.6,1320.4 1650.3,1308.2 1652.7,1296.0 1667.3,1298.5 1674.6,1286.3 1680.7,1288.7 1684.3,1300.9 1689.2,1315.5 1694.1,1330.1 1697.7,1390.9 1701.4,1429.9 1706.2,1481.0 1711.1,1517.5 1714.8,1541.8 1718.4,1554.0 1720.8,1568.6 1725.7,1568.6 1733.0,1546.7 1737.9,1561.3 1741.5,1573.5 1745.2,1585.6 1750.0,1585.6 1759.8,1578.3 1771.9,1582.0 1778.0,1573.5 1784.1,1561.3 1793.8,1556.4 1803.6,1555.2 1813.3,1539.4 1820.6,1522.3 1822.0,1507.7 1826.9,1485.8 1831.8,1446.9 1836.6,1410.4 1842.7,1359.3 1847.6,1398.2 1851.2,1422.6 1856.1,1473.7 1861.0,1502.9 1865.8,1510.2 1870.7,1501.7 1878.0,1463.9 1886.5,1445.7 1893.8,1446.9 1902.3,1455.4 1912.1,1461.5 1918.2,1498.0 1926.7,1522.3 1936.4,1512.6 1942.5,1500.4 1951.0,1490.7 1960.8,1500.4 1972.9,1507.7 1982.7,1510.2 1990.0,1521.1 1998.5,1532.1 2007.0,1539.4 2016.7,1563.7 2025.2,1571.0 2032.5,1561.3 2041.1,1561.3 2048.4,1569.8 2055.7,1561.3 2063.0,1549.1 2067.8,1536.9 2075.1,1527.2 2082.4,1544.2 2088.5,1561.3 2094.6,1561.3 2101.9,1541.8 2109.2,1554.0 2116.5,1569.8 2121.4,1561.3 2126.2,1539.4 2131.1,1522.3 2140.8,1500.4 2148.1,1500.4 2153.0,1515.0 2157.9,1529.6 2164.0,1549.1 2170.0,1561.3 2174.9,1551.5 2177.3,1524.8 2184.6,1505.3 2194.4,1493.1 2201.7,1481.0 2209.0,1481.0 2216.3,1488.3 2223.6,1500.4 2230.9,1495.6 2241.8,1485.8" stroke="#6495ed" stroke-width="3.5" stroke-dasharray="3.5 9.0"/>
<polyline points="1390.6,1556.9 1467.7,1556.4 1475.0,1563.7 1479.9,1578.3 1484.8,1590.5 1540.8,1590.5 1545.6,1575.9 1550.5,1561.3 1555.4,1544.2 1560.2,1505.3 1565.1,1478.5 1570.0,1460.3 1579.7,1471.2 1587.0,1444.5 1590.6,1420.1 1593.1,1395.8 1594.3,1369.0 1596.7,1347.1 1601.6,1333.7 1606.5,1320.4 1615.0,1314.3 1624.7,1308.2 1628.4,1296.0 1632.0,1283.8 1636.9,1271.7 1641.7,1247.3 1646.6,1223.0 1650.3,1210.8 1658.8,1202.3 1666.1,1206.0 1667.3,1218.1 1668.5,1230.3 1671.0,1242.5 1673.4,1257.1 1677.0,1269.2 1679.5,1281.4 1683.1,1296.0 1686.8,1305.8 1694.1,1279.0 1702.6,1288.7 1706.2,1300.9 1708.7,1313.1 1709.9,1325.2 1712.3,1344.7 1714.8,1381.2 1718.4,1412.8 1720.8,1425.0 1726.9,1437.2 1733.0,1446.9 1740.3,1457.9 1747.6,1466.4 1753.7,1461.5 1759.8,1451.8 1767.1,1439.6 1774.4,1449.3 1781.7,1439.6 1789.0,1437.2 1793.8,1393.4 1798.7,1344.7 1801.2,1327.7 1803.6,1356.9 1807.2,1417.7 1810.9,1476.1 1820.6,1442.0 1829.3,1510.2 1834.2,1527.2 1839.1,1563.7 1842.7,1590.5 1847.6,1563.7 1851.2,1529.6 1853.7,1502.9 1857.3,1504.1 1861.0,1524.8 1865.8,1558.8 1869.5,1588.1 1875.6,1573.5 1882.9,1590.5 1890.2,1580.8 1897.5,1568.6 1904.8,1578.3 1909.6,1588.1 1919.4,1588.1 1927.9,1580.8 1931.5,1568.6 1936.4,1556.4 1940.1,1539.4 1943.7,1524.8 1951.0,1510.2 1957.1,1512.6 1963.2,1515.0 1968.1,1523.6 1972.9,1536.9 1975.4,1551.5 1979.0,1566.2 1980.2,1583.2 1985.1,1561.3 1990.0,1544.2 1993.6,1490.7 1998.5,1478.5 2002.1,1490.7 2004.6,1515.0 2007.0,1529.6 2011.9,1546.7 2016.7,1563.7 2028.9,1544.2 2043.5,1529.6 2053.2,1519.9 2058.1,1493.1 2063.0,1466.4 2067.8,1451.8 2075.1,1420.1 2080.0,1439.6 2082.4,1471.2 2083.7,1510.2 2087.3,1529.6 2091.0,1554.0 2094.6,1558.8 2099.5,1539.4 2104.3,1534.5 2114.1,1549.1 2121.4,1554.0 2131.1,1561.3 2140.8,1549.1 2150.6,1539.4 2156.7,1529.6 2162.7,1517.5 2170.0,1488.3 2174.9,1478.5 2179.8,1502.9 2184.6,1529.6 2191.9,1549.1 2199.2,1568.6 2209.0,1563.7 2216.3,1568.6 2223.6,1580.8 2229.7,1588.1 2233.3,1563.7 2241.8,1534.5" stroke="#bfbf00" stroke-width="3.5" stroke-dasharray="3.5 9.0"/>
<polyline points="1390.6,1557.6 1479.9,1554.0 1489.6,1549.1 1496.9,1536.9 1504.2,1527.2 1514.0,1517.5 1524.9,1515.0 1534.7,1507.7 1543.2,1500.4 1551.7,1490.7 1561.4,1485.8 1572.4,1478.5 1579.7,1468.8 1589.4,1460.3 1600.4,1454.2 1611.3,1453.0 1619.8,1463.9 1628.4,1466.4 1640.5,1456.6 1650.3,1451.8 1662.4,1454.2 1672.2,1448.1 1681.9,1448.1 1691.6,1457.9 1701.4,1451.8 1713.5,1454.2 1723.3,1463.9 1729.4,1473.7 1739.1,1477.3 1750.0,1473.7 1762.2,1474.9 1774.4,1471.2 1786.5,1477.3 1798.7,1478.5 1808.5,1477.3 1817.2,1465.2 1829.3,1466.4 1839.1,1461.5 1850.0,1455.4 1859.8,1448.1 1868.3,1438.4 1880.4,1437.2 1891.4,1432.3 1899.9,1428.7 1909.6,1438.4 1918.2,1431.1 1926.7,1422.6 1937.6,1414.0 1948.6,1410.4 1960.8,1410.4 1971.7,1416.5 1980.2,1426.2 1987.5,1416.5 1993.6,1405.5 2002.1,1414.0 2011.9,1422.6 2024.0,1426.2 2033.8,1432.3 2044.7,1439.6 2056.9,1443.3 2069.0,1446.9 2081.2,1449.3 2092.2,1453.0 2101.9,1461.5 2114.1,1462.7 2126.2,1465.2 2138.4,1463.9 2149.4,1465.2 2161.5,1467.6 2173.7,1462.7 2184.6,1467.6 2196.8,1473.7 2205.3,1473.7 2215.1,1466.4 2223.6,1474.9 2241.8,1476.1" stroke="#c000c0" stroke-width="3.5" stroke-dasharray="3.5 9.0"/>
<polyline points="1390.6,1559.3 1516.4,1559.3 1543.2,1558.8 1548.1,1544.2 1555.4,1529.6 1562.7,1510.2 1570.0,1500.4 1577.3,1488.3 1579.7,1476.1 1584.6,1463.9 1589.4,1463.9 1596.7,1442.0 1604.0,1420.1 1608.9,1420.1 1621.1,1425.0 1628.4,1437.2 1633.2,1444.5 1635.7,1422.6 1639.3,1405.5 1643.0,1395.8 1647.8,1383.6 1652.7,1369.0 1655.1,1356.9 1657.6,1344.7 1662.4,1337.4 1669.7,1325.2 1677.0,1320.4 1684.3,1330.1 1689.2,1342.3 1695.3,1356.9 1701.4,1366.6 1708.7,1376.3 1713.5,1386.1 1720.8,1398.2 1730.6,1408.0 1742.7,1420.1 1754.9,1432.3 1769.5,1444.5 1784.1,1454.2 1798.7,1463.9 1805.0,1471.2 1824.5,1474.9 1841.5,1479.8 1861.0,1483.4 1878.0,1487.1 1897.5,1487.1 1909.6,1485.8 1919.4,1473.7 1929.1,1463.9 1937.6,1454.2 1946.2,1444.5 1955.9,1438.4 1968.1,1437.2 1980.2,1440.8 1994.8,1448.1 2007.0,1455.4 2019.2,1463.9 2031.3,1471.2 2045.9,1477.3 2060.5,1482.2 2077.6,1487.1 2097.0,1489.5 2116.5,1493.1 2136.0,1493.1 2155.4,1493.1 2174.9,1495.6 2194.4,1500.4 2213.8,1505.3 2241.8,1515.0" stroke="#00bfff" stroke-width="3.5" stroke-dasharray="3.5 9.0"/>
<polyline points="1390.6,1556.9 1482.3,1556.4 1487.2,1544.2 1492.1,1522.3 1496.9,1510.2 1500.6,1505.3 1504.2,1522.3 1509.1,1534.5 1514.0,1541.8 1523.7,1534.5 1533.5,1527.2 1544.4,1522.3 1555.4,1517.5 1570.0,1517.5 1582.1,1515.0 1594.3,1510.2 1605.2,1511.4 1615.0,1506.5 1624.7,1498.0 1628.4,1485.8 1633.2,1466.4 1638.1,1446.9 1640.5,1425.0 1643.0,1403.1 1645.4,1383.6 1647.8,1364.2 1651.5,1349.6 1653.9,1337.4 1657.6,1325.2 1660.0,1310.6 1662.4,1298.5 1663.7,1287.5 1668.5,1276.5 1674.6,1269.2 1680.7,1275.3 1686.8,1286.3 1692.9,1298.5 1698.9,1310.6 1703.8,1322.8 1706.2,1335.0 1709.9,1347.1 1713.5,1359.3 1720.8,1369.0 1730.6,1375.1 1740.3,1384.8 1748.8,1393.4 1758.6,1400.7 1769.5,1408.0 1779.2,1415.3 1789.0,1422.6 1801.2,1427.4 1806.0,1439.6 1810.9,1451.8 1820.6,1463.9 1829.3,1459.1 1841.5,1461.5 1848.8,1449.3 1857.3,1438.4 1865.8,1431.1 1878.0,1433.5 1887.7,1438.4 1899.9,1437.2 1912.1,1431.1 1918.2,1420.1 1926.7,1410.4 1931.5,1399.4 1938.8,1388.5 1948.6,1380.0 1958.3,1372.7 1969.3,1365.4 1980.2,1365.4 1988.7,1375.1 1997.3,1386.1 2004.6,1395.8 2011.9,1405.5 2017.9,1416.5 2026.5,1426.2 2038.6,1431.1 2050.8,1431.1 2063.0,1433.5 2075.1,1436.0 2087.3,1438.4 2100.7,1437.2 2112.9,1440.8 2123.8,1440.8 2136.0,1438.4 2148.1,1438.4 2160.3,1442.0 2172.5,1445.7 2183.4,1440.8 2195.6,1440.8 2206.5,1446.9 2218.7,1453.0 2241.8,1454.2" stroke="#008000" stroke-width="3.5" stroke-dasharray="3.5 9.0"/>
<polyline points="1390.6,1557.6 1543.2,1556.9 1555.4,1554.0 1560.2,1539.4 1565.1,1522.3 1570.0,1517.5 1574.8,1527.2 1579.7,1539.4 1584.6,1536.9 1589.4,1524.8 1599.2,1519.9 1604.0,1529.6 1608.9,1541.8 1616.2,1541.8 1623.5,1534.5 1628.4,1522.3 1630.8,1507.7 1633.2,1495.6 1635.7,1473.7 1638.1,1461.5 1640.5,1449.3 1643.0,1434.7 1645.4,1422.6 1647.8,1410.4 1650.3,1398.2 1652.7,1386.1 1655.1,1373.9 1657.6,1361.7 1661.2,1344.7 1669.7,1325.2 1677.0,1315.5 1684.3,1325.2 1689.2,1335.0 1694.1,1349.6 1698.9,1361.7 1703.8,1371.5 1711.1,1383.6 1723.3,1393.4 1733.0,1408.0 1742.7,1420.1 1754.9,1432.3 1769.5,1444.5 1784.1,1454.2 1798.7,1461.5 1805.0,1466.4 1824.5,1473.7 1836.6,1477.3 1848.8,1481.0 1861.0,1482.2 1873.1,1487.1 1885.3,1488.3 1899.9,1487.1 1909.6,1485.8 1919.4,1476.1 1929.1,1467.6 1936.4,1457.9 1944.9,1448.1 1954.7,1439.6 1966.8,1437.2 1977.8,1440.8 1990.0,1445.7 1999.7,1453.0 2011.9,1459.1 2021.6,1466.4 2031.3,1473.7 2042.3,1479.8 2055.7,1483.4 2067.8,1485.8 2077.6,1488.3 2089.7,1491.9 2101.9,1494.4 2116.5,1496.8 2128.7,1498.0 2140.8,1496.8 2153.0,1499.2 2165.2,1500.4 2177.3,1502.9 2189.5,1506.5 2201.7,1507.7 2216.3,1510.2 2228.5,1513.8 2241.8,1517.5" stroke="#ff0000" stroke-width="3.5" stroke-dasharray="3.5 9.0"/>
</g>
<line x1="1384.6" y1="969.5" x2="2242.8" y2="969.5" stroke="#a6a6a6" stroke-width="4.0"/>
<line x1="1389.1" y1="1605.5" x2="2242.8" y2="1605.5" stroke="#a6a6a6" stroke-width="4.0"/>
<line x1="1390.6" y1="969.5" x2="1390.6" y2="1607.0" stroke="#c0c0c0" stroke-width="4.0"/>
<line x1="2241.3" y1="969.5" x2="2241.3" y2="1607.0" stroke="#707070" stroke-width="3.0"/>
<line x1="1383.6" y1="1605.5" x2="1390.6" y2="1605.5" stroke="#555" stroke-width="2"/>
<text transform="translate(1383.1,1621.0) scale(1.0,1.1)" font-size="43" text-anchor="end" fill="#111">0</text>
<line x1="1383.6" y1="1499.5" x2="1390.6" y2="1499.5" stroke="#555" stroke-width="2"/>
<text transform="translate(1383.1,1515.0) scale(1.0,1.1)" font-size="43" text-anchor="end" fill="#111">25</text>
<line x1="1383.6" y1="1393.5" x2="1390.6" y2="1393.5" stroke="#555" stroke-width="2"/>
<text transform="translate(1383.1,1409.0) scale(1.0,1.1)" font-size="43" text-anchor="end" fill="#111">50</text>
<line x1="1383.6" y1="1287.5" x2="1390.6" y2="1287.5" stroke="#555" stroke-width="2"/>
<text transform="translate(1383.1,1303.0) scale(1.0,1.1)" font-size="43" text-anchor="end" fill="#111">75</text>
<line x1="1383.6" y1="1181.5" x2="1390.6" y2="1181.5" stroke="#555" stroke-width="2"/>
<text transform="translate(1383.1,1197.0) scale(1.0,1.1)" font-size="43" text-anchor="end" fill="#111">100</text>
<line x1="1383.6" y1="1075.5" x2="1390.6" y2="1075.5" stroke="#555" stroke-width="2"/>
<text transform="translate(1383.1,1091.0) scale(1.0,1.1)" font-size="43" text-anchor="end" fill="#111">125</text>
<line x1="1383.6" y1="969.5" x2="1390.6" y2="969.5" stroke="#555" stroke-width="2"/>
<text transform="translate(1383.1,985.0) scale(1.0,1.1)" font-size="43" text-anchor="end" fill="#111">150</text>
<line x1="1390.6" y1="1605.5" x2="1390.6" y2="1612.5" stroke="#888" stroke-width="2.2"/>
<text transform="translate(1390.6,1644.5) scale(1.0,1.1)" font-size="43" text-anchor="middle" fill="#111">0</text>
<line x1="1665.0" y1="1605.5" x2="1665.0" y2="1612.5" stroke="#888" stroke-width="2.2"/>
<text transform="translate(1665.0,1644.5) scale(1.0,1.1)" font-size="43" text-anchor="middle" fill="#111">20</text>
<line x1="1939.4" y1="1605.5" x2="1939.4" y2="1612.5" stroke="#888" stroke-width="2.2"/>
<text transform="translate(1939.4,1644.5) scale(1.0,1.1)" font-size="43" text-anchor="middle" fill="#111">40</text>
<line x1="2213.9" y1="1605.5" x2="2213.9" y2="1612.5" stroke="#888" stroke-width="2.2"/>
<text transform="translate(2213.9,1644.5) scale(1.0,1.1)" font-size="43" text-anchor="middle" fill="#111">60</text>
<line x1="2241.3" y1="969.5" x2="2248.3" y2="969.5" stroke="#888" stroke-width="2.2"/>
<text transform="translate(2247.3,985.0) scale(1.0,1.1)" font-size="43" text-anchor="start" fill="#111">0</text>
<line x1="2241.3" y1="1075.5" x2="2248.3" y2="1075.5" stroke="#888" stroke-width="2.2"/>
<text transform="translate(2247.3,1091.0) scale(1.0,1.1)" font-size="43" text-anchor="start" fill="#111">5</text>
<line x1="2241.3" y1="1181.5" x2="2248.3" y2="1181.5" stroke="#888" stroke-width="2.2"/>
<text transform="translate(2247.3,1197.0) scale(1.0,1.1)" font-size="43" text-anchor="start" fill="#111">10</text>
<line x1="2241.3" y1="1287.5" x2="2248.3" y2="1287.5" stroke="#888" stroke-width="2.2"/>
<text transform="translate(2247.3,1303.0) scale(1.0,1.1)" font-size="43" text-anchor="start" fill="#111">15</text>
<line x1="2241.3" y1="1393.5" x2="2248.3" y2="1393.5" stroke="#888" stroke-width="2.2"/>
<text transform="translate(2247.3,1409.0) scale(1.0,1.1)" font-size="43" text-anchor="start" fill="#111">20</text>
<line x1="2241.3" y1="1499.5" x2="2248.3" y2="1499.5" stroke="#888" stroke-width="2.2"/>
<text transform="translate(2247.3,1515.0) scale(1.0,1.1)" font-size="43" text-anchor="start" fill="#111">25</text>
<line x1="2241.3" y1="1605.5" x2="2248.3" y2="1605.5" stroke="#888" stroke-width="2.2"/>
<text transform="translate(2247.3,1621.0) scale(1.0,1.1)" font-size="43" text-anchor="start" fill="#111">30</text>
<text transform="translate(1818.0,1688.5) scale(1.0,1.07)" font-size="45" text-anchor="middle" fill="#111">Time(hour)</text>
<text transform="translate(1818.0,1757.5) scale(1.0,1.03)" font-size="44.5" text-anchor="middle" fill="#111">(d) 2020081109</text>
<text transform="translate(1302.6,1284.5) rotate(-90)" font-size="45.5" text-anchor="middle" fill="#111">Forecasted Hour Runoff(m<tspan font-size="26" dy="-5">3</tspan><tspan dy="5">/s)</tspan></text>
<text transform="translate(2329.3,1285.5) rotate(-90)" font-size="44.7" text-anchor="middle" fill="#111">Precipitation(mm)</text>
</g>
<g id="panel-e">
<clipPath id="clipe"><rect x="162.6" y="1841.5" width="851.4" height="636.5"/></clipPath>
<g clip-path="url(#clipe)">
<rect x="312.8" y="1841.5" width="11.8" height="2.6" fill="#c9d9f8"/>
<rect x="327.0" y="1841.5" width="11.8" height="72.8" fill="#c9d9f8"/>
<rect x="341.2" y="1841.5" width="11.8" height="25.5" fill="#c9d9f8"/>
<rect x="355.4" y="1841.5" width="11.8" height="8.5" fill="#c9d9f8"/>
<rect x="369.6" y="1841.5" width="11.8" height="77.7" fill="#c9d9f8"/>
<rect x="383.7" y="1841.5" width="11.8" height="238.3" fill="#c9d9f8"/>
<rect x="397.9" y="1841.5" width="11.8" height="132.4" fill="#c9d9f8"/>
<rect x="412.1" y="1841.5" width="11.8" height="30.4" fill="#c9d9f8"/>
<rect x="426.3" y="1841.5" width="11.8" height="2.6" fill="#c9d9f8"/>
<rect x="468.9" y="1841.5" width="11.8" height="26.5" fill="#c9d9f8"/>
<rect x="483.1" y="1841.5" width="11.8" height="16.4" fill="#c9d9f8"/>
<rect x="314.3" y="1841.5" width="8.8" height="1.1" fill="#6495ed"/>
<rect x="328.5" y="1841.5" width="8.8" height="71.3" fill="#6495ed"/>
<rect x="342.7" y="1841.5" width="8.8" height="24.0" fill="#6495ed"/>
<rect x="356.9" y="1841.5" width="8.8" height="7.0" fill="#6495ed"/>
<rect x="371.1" y="1841.5" width="8.8" height="76.2" fill="#6495ed"/>
<rect x="385.2" y="1841.5" width="8.8" height="236.8" fill="#6495ed"/>
<rect x="399.4" y="1841.5" width="8.8" height="130.9" fill="#6495ed"/>
<rect x="413.6" y="1841.5" width="8.8" height="28.9" fill="#6495ed"/>
<rect x="427.8" y="1841.5" width="8.8" height="1.1" fill="#6495ed"/>
<rect x="470.4" y="1841.5" width="8.8" height="25.0" fill="#6495ed"/>
<rect x="484.6" y="1841.5" width="8.8" height="14.9" fill="#6495ed"/>
</g>
<g clip-path="url(#clipe)" fill="none">
<polyline points="163.7,2422.5 208.7,2421.2 257.3,2422.5 306.0,2422.5 354.7,2422.5 391.2,2421.2 403.4,2411.5 410.7,2392.0 415.5,2367.7 420.4,2331.2 425.3,2294.7 430.1,2258.2 435.0,2221.7 439.9,2185.2 444.7,2148.7 449.6,2127.0 456.9,2107.6 466.6,2093.0 476.4,2085.7 486.1,2083.2 495.8,2086.9 505.6,2093.0 515.3,2102.7 525.0,2114.9 532.3,2127.0 539.6,2148.7 549.4,2173.0 559.1,2197.3 568.8,2221.7 578.6,2241.2 588.3,2258.2 589.7,2265.5 604.3,2280.1 618.9,2294.7 633.5,2309.3 650.6,2326.3 665.2,2340.9 682.2,2355.5 701.7,2367.7 718.7,2377.4 738.2,2383.5 762.5,2386.0 786.9,2388.4 811.2,2395.7 835.5,2400.6 859.9,2404.2 884.2,2406.6 908.5,2407.9 932.9,2409.1 957.2,2411.5 981.5,2412.7 1015.6,2413.9" stroke="#cdcdcd" stroke-width="7.5" stroke-linejoin="round"/>
<polyline points="163.7,2423.7 174.6,2431.0 192.9,2404.2 205.0,2407.9 216.0,2416.4 262.2,2431.0 293.8,2431.0 330.4,2426.1 340.1,2413.9 347.4,2406.6 357.1,2413.9 376.6,2429.8 382.7,2440.7 387.5,2448.0 393.6,2450.4 403.4,2449.2 408.2,2437.1 415.5,2416.4 422.8,2392.0 427.7,2379.9 432.6,2362.8 437.4,2331.2 442.3,2294.7 447.2,2258.2 452.0,2221.7 456.9,2192.5 464.2,2165.7 473.9,2153.5 483.7,2130.4 488.5,2117.0 497.1,2123.1 505.6,2126.8 512.9,2115.8 522.6,2104.9 532.3,2102.4 537.2,2113.4 542.1,2125.6 549.4,2148.7 559.1,2163.3 571.3,2157.2 576.2,2163.3 577.4,2175.4 578.6,2188.8 581.0,2199.8 583.5,2214.4 588.3,2226.5 595.6,2236.3 604.3,2258.2 614.1,2272.8 625.0,2278.9 633.5,2287.4 637.2,2299.6 650.6,2311.7 657.9,2300.8 662.7,2309.3 665.2,2321.5 667.6,2333.6 672.5,2359.2 681.0,2367.7 690.7,2371.3 699.2,2359.2 709.0,2359.2 717.5,2377.4 723.6,2367.7 732.1,2358.0 740.6,2358.0 750.4,2360.4 765.0,2358.0 774.7,2349.4 786.9,2344.6 790.5,2355.5 791.7,2367.7 796.6,2379.9 806.3,2387.2 820.9,2401.8 828.2,2411.5 838.0,2416.4 847.7,2409.1 862.3,2409.1 868.4,2418.8 873.3,2426.1 878.1,2416.4 886.6,2405.4 896.4,2401.8 908.5,2396.9 917.1,2392.0 925.6,2404.2 937.7,2411.5 949.9,2409.1 962.1,2406.6 971.8,2404.2 981.5,2395.7 993.7,2389.6 1005.9,2377.4 1015.6,2367.7" stroke="#ff8c00" stroke-width="3.5" stroke-dasharray="3.5 9.0"/>
<polyline points="163.7,2446.8 174.6,2439.5 184.3,2431.0 196.5,2423.7 213.5,2410.3 225.7,2410.3 237.9,2413.9 250.0,2416.4 262.2,2416.4 274.4,2423.7 285.3,2431.0 297.5,2435.8 308.5,2439.5 319.4,2444.4 331.6,2440.7 340.1,2429.8 352.3,2421.2 366.9,2416.4 374.2,2416.4 381.5,2437.1 387.5,2448.0 393.6,2457.7 400.9,2467.5 405.8,2462.6 408.2,2438.3 413.1,2426.1 418.0,2406.6 422.8,2387.2 427.7,2367.7 430.1,2343.4 432.6,2319.0 436.2,2294.7 438.7,2270.4 442.3,2241.2 447.2,2209.5 454.5,2185.2 461.8,2170.6 471.5,2156.0 481.2,2146.2 492.2,2138.9 500.7,2129.2 510.4,2129.2 520.2,2136.5 532.3,2142.6 539.6,2151.1 546.9,2163.3 554.2,2173.0 559.1,2182.7 566.4,2194.9 573.7,2207.1 581.0,2214.4 588.3,2226.5 595.6,2238.7 598.3,2250.9 600.7,2263.1 615.3,2281.3 625.0,2288.6 633.5,2297.1 642.1,2308.1 650.6,2315.4 660.3,2319.0 666.4,2328.8 682.2,2345.8 693.2,2342.1 702.9,2336.1 713.8,2340.9 721.2,2350.7 729.7,2362.8 738.2,2356.7 745.5,2353.1 757.7,2373.8 765.0,2384.7 774.7,2395.7 784.4,2401.8 794.2,2396.9 806.3,2392.0 816.1,2401.8 828.2,2399.3 842.8,2394.5 859.9,2388.4 872.0,2390.8 889.1,2394.5 898.8,2403.0 911.0,2404.2 921.9,2390.8 932.9,2389.6 942.6,2386.0 949.9,2396.9 959.6,2401.8 969.4,2404.2 981.5,2410.3 993.7,2410.3 1015.6,2409.1" stroke="#6495ed" stroke-width="3.5" stroke-dasharray="3.5 9.0"/>
<polyline points="163.7,2423.7 174.6,2418.8 186.8,2423.7 198.9,2434.6 208.7,2433.4 220.8,2421.2 233.0,2423.7 245.2,2428.5 257.3,2421.2 269.5,2416.4 281.7,2413.9 291.4,2412.7 306.0,2428.5 315.8,2423.7 330.4,2418.8 340.1,2404.2 345.0,2392.0 352.3,2394.5 358.3,2404.2 366.9,2410.3 379.0,2407.9 388.8,2399.3 396.1,2389.6 403.4,2378.7 413.1,2375.0 422.8,2365.3 427.7,2343.4 430.1,2331.2 435.0,2306.9 439.9,2270.4 444.7,2233.8 452.0,2202.2 464.2,2175.4 476.4,2171.8 487.3,2181.5 493.4,2174.2 499.5,2163.3 504.4,2151.1 509.2,2140.2 515.3,2129.2 522.6,2124.3 532.3,2143.8 539.6,2158.4 543.3,2171.8 545.7,2185.2 546.9,2197.3 556.7,2192.5 564.0,2207.1 573.7,2226.5 583.5,2255.8 593.2,2281.3 594.6,2281.3 598.3,2293.5 600.7,2305.6 608.0,2309.3 618.9,2308.1 623.8,2320.2 629.9,2332.4 639.6,2334.8 653.0,2326.3 661.5,2316.6 670.0,2322.7 679.8,2327.5 690.7,2323.9 700.5,2314.2 706.5,2321.5 711.4,2333.6 716.3,2343.4 728.5,2344.6 735.8,2367.7 743.1,2392.0 745.5,2401.8 750.4,2375.0 754.0,2349.4 755.2,2337.3 758.9,2325.1 766.2,2328.8 773.5,2337.3 777.1,2350.7 780.8,2362.8 784.4,2375.0 791.7,2382.3 799.0,2383.5 811.2,2387.2 823.4,2407.9 829.4,2418.8 834.3,2409.1 842.8,2386.0 847.7,2394.5 859.9,2416.4 872.0,2423.7 879.3,2413.9 886.6,2406.6 896.4,2404.2 908.5,2409.1 917.1,2416.4 920.7,2428.5 923.1,2440.7 925.6,2452.9 929.2,2465.0 935.3,2452.9 940.2,2440.7 945.0,2438.3 949.9,2450.4 956.0,2461.4 959.6,2455.3 962.1,2443.1 964.5,2431.0 966.9,2418.8 973.0,2394.5 979.1,2382.3 984.0,2370.1 991.3,2383.5 996.2,2394.5 1005.9,2389.6 1015.6,2384.7" stroke="#bfbf00" stroke-width="3.5" stroke-dasharray="3.5 9.0"/>
<polyline points="163.7,2410.3 177.0,2413.9 189.2,2410.3 201.4,2412.7 213.5,2413.9 257.3,2416.4 306.0,2416.4 354.7,2416.4 379.0,2413.9 385.1,2412.7 396.1,2406.6 405.8,2398.1 416.7,2390.8 427.7,2387.2 439.9,2386.0 449.6,2381.1 456.9,2370.1 463.0,2360.4 471.5,2350.7 483.7,2345.8 494.6,2342.1 504.4,2334.8 516.5,2328.8 525.0,2320.2 534.8,2315.4 544.5,2323.9 556.7,2322.7 568.8,2317.8 579.8,2317.8 590.8,2322.7 601.9,2327.5 612.9,2333.1 625.0,2335.6 638.4,2335.6 650.6,2338.5 661.5,2344.6 672.5,2344.6 684.6,2344.6 699.2,2345.8 710.2,2350.7 721.2,2357.5 732.1,2361.6 741.8,2359.2 754.0,2358.0 766.2,2364.0 777.1,2367.7 789.3,2367.7 801.5,2371.3 813.6,2368.9 825.8,2370.1 836.7,2376.2 847.7,2382.3 861.1,2382.3 873.3,2382.3 885.4,2381.1 897.6,2383.5 909.8,2384.7 923.1,2386.0 935.3,2387.2 948.7,2388.4 960.9,2388.4 973.0,2389.6 985.2,2389.6 997.4,2390.8 1015.6,2392.0" stroke="#c000c0" stroke-width="3.5" stroke-dasharray="3.5 9.0"/>
<polyline points="162.6,2423.8 176.8,2421.1 191.0,2419.7 205.2,2423.7 219.4,2420.1 233.6,2421.7 247.7,2423.7 261.9,2423.9 276.1,2422.2 290.3,2422.4 304.5,2424.3 318.7,2423.8 332.9,2418.9 347.1,2421.8 361.3,2419.6 375.4,2418.3 389.6,2419.7 403.8,2411.9 418.0,2401.6 432.2,2315.0 446.4,2214.0 460.6,2125.3 474.8,2103.8 489.0,2108.2 503.2,2102.6 517.4,2099.7 531.5,2110.4 545.7,2135.4 559.9,2174.8 574.1,2208.6 588.3,2238.6 602.5,2268.6 616.7,2279.2 630.9,2303.9 645.1,2308.9 659.2,2328.4 673.4,2336.2 687.6,2352.4 701.8,2364.4 716.0,2369.0 730.2,2380.8 744.4,2385.3 758.6,2389.6 772.8,2386.1 787.0,2385.8 801.1,2386.4 815.3,2394.4 829.5,2394.0 843.7,2400.1 857.9,2402.6 872.1,2402.4 886.3,2402.1 900.5,2407.2 914.7,2406.9 928.9,2406.3 943.1,2405.0 957.2,2408.3 971.4,2402.4 985.6,2407.3 999.8,2405.5 1014.0,2411.1" stroke="#00bfff" stroke-width="3.5" stroke-dasharray="3.5 9.0"/>
<polyline points="162.6,2420.0 176.8,2421.6 191.0,2421.5 205.2,2416.0 219.4,2424.2 233.6,2421.9 247.7,2420.5 261.9,2419.9 276.1,2423.8 290.3,2421.5 304.5,2423.3 318.7,2422.1 332.9,2422.9 347.1,2426.1 361.3,2422.5 375.4,2419.4 389.6,2424.7 403.8,2421.0 418.0,2400.6 432.2,2331.0 446.4,2219.8 460.6,2128.3 474.8,2085.2 489.0,2063.9 503.2,2064.9 517.4,2085.1 531.5,2102.7 545.7,2131.7 559.9,2170.5 574.1,2201.5 588.3,2242.1 602.5,2263.5 616.7,2281.2 630.9,2290.8 645.1,2308.9 659.2,2325.8 673.4,2337.0 687.6,2348.1 701.8,2360.6 716.0,2367.8 730.2,2379.1 744.4,2388.7 758.6,2381.6 772.8,2383.6 787.0,2386.8 801.1,2389.0 815.3,2390.2 829.5,2398.5 843.7,2402.2 857.9,2402.9 872.1,2400.7 886.3,2410.5 900.5,2404.0 914.7,2411.2 928.9,2414.4 943.1,2408.9 957.2,2415.8 971.4,2421.8 985.6,2419.9 999.8,2416.0 1014.0,2414.8" stroke="#008000" stroke-width="3.5" stroke-dasharray="3.5 9.0"/>
<polyline points="162.6,2421.3 176.8,2421.1 191.0,2423.3 205.2,2415.1 219.4,2420.1 233.6,2416.0 247.7,2419.0 261.9,2424.5 276.1,2423.7 290.3,2421.1 304.5,2422.3 318.7,2422.3 332.9,2423.4 347.1,2428.2 361.3,2423.2 375.4,2429.1 389.6,2420.4 403.8,2420.3 418.0,2397.4 432.2,2307.1 446.4,2199.0 460.6,2124.5 474.8,2097.8 489.0,2086.0 503.2,2090.9 517.4,2098.0 531.5,2106.8 545.7,2144.7 559.9,2176.0 574.1,2217.9 588.3,2242.3 602.5,2270.7 616.7,2284.1 630.9,2296.3 645.1,2306.7 659.2,2325.9 673.4,2340.3 687.6,2356.0 701.8,2360.6 716.0,2371.8 730.2,2375.7 744.4,2382.9 758.6,2379.2 772.8,2392.4 787.0,2388.5 801.1,2387.3 815.3,2395.5 829.5,2400.2 843.7,2401.3 857.9,2407.0 872.1,2404.2 886.3,2398.2 900.5,2403.4 914.7,2411.3 928.9,2411.2 943.1,2410.5 957.2,2407.5 971.4,2414.4 985.6,2414.7 999.8,2410.3 1014.0,2410.8" stroke="#ff0000" stroke-width="3.5" stroke-dasharray="3.5 9.0"/>
</g>
<line x1="156.6" y1="1841.5" x2="1015.5" y2="1841.5" stroke="#606060" stroke-width="3.0"/>
<line x1="161.1" y1="2478.0" x2="1015.5" y2="2478.0" stroke="#555555" stroke-width="3.0"/>
<line x1="162.6" y1="1841.5" x2="162.6" y2="2479.5" stroke="#a6a6a6" stroke-width="4.0"/>
<line x1="1014.0" y1="1841.5" x2="1014.0" y2="2479.5" stroke="#a6a6a6" stroke-width="4.0"/>
<line x1="155.6" y1="2478.0" x2="162.6" y2="2478.0" stroke="#555" stroke-width="2"/>
<text transform="translate(155.1,2493.5) scale(1.0,1.1)" font-size="43" text-anchor="end" fill="#111">0</text>
<line x1="155.6" y1="2371.9" x2="162.6" y2="2371.9" stroke="#555" stroke-width="2"/>
<text transform="translate(155.1,2387.4) scale(1.0,1.1)" font-size="43" text-anchor="end" fill="#111">50</text>
<line x1="155.6" y1="2265.8" x2="162.6" y2="2265.8" stroke="#555" stroke-width="2"/>
<text transform="translate(155.1,2281.3) scale(1.0,1.1)" font-size="43" text-anchor="end" fill="#111">100</text>
<line x1="155.6" y1="2159.8" x2="162.6" y2="2159.8" stroke="#555" stroke-width="2"/>
<text transform="translate(155.1,2175.2) scale(1.0,1.1)" font-size="43" text-anchor="end" fill="#111">150</text>
<line x1="155.6" y1="2053.7" x2="162.6" y2="2053.7" stroke="#555" stroke-width="2"/>
<text transform="translate(155.1,2069.2) scale(1.0,1.1)" font-size="43" text-anchor="end" fill="#111">200</text>
<line x1="155.6" y1="1947.6" x2="162.6" y2="1947.6" stroke="#555" stroke-width="2"/>
<text transform="translate(155.1,1963.1) scale(1.0,1.1)" font-size="43" text-anchor="end" fill="#111">250</text>
<line x1="155.6" y1="1841.5" x2="162.6" y2="1841.5" stroke="#555" stroke-width="2"/>
<text transform="translate(155.1,1857.0) scale(1.0,1.1)" font-size="43" text-anchor="end" fill="#111">300</text>
<line x1="162.6" y1="2478.0" x2="162.6" y2="2485.0" stroke="#888" stroke-width="2.2"/>
<text transform="translate(162.6,2517.0) scale(1.0,1.1)" font-size="43" text-anchor="middle" fill="#111">0</text>
<line x1="304.5" y1="2478.0" x2="304.5" y2="2485.0" stroke="#888" stroke-width="2.2"/>
<text transform="translate(304.5,2517.0) scale(1.0,1.1)" font-size="43" text-anchor="middle" fill="#111">10</text>
<line x1="446.4" y1="2478.0" x2="446.4" y2="2485.0" stroke="#888" stroke-width="2.2"/>
<text transform="translate(446.4,2517.0) scale(1.0,1.1)" font-size="43" text-anchor="middle" fill="#111">20</text>
<line x1="588.3" y1="2478.0" x2="588.3" y2="2485.0" stroke="#888" stroke-width="2.2"/>
<text transform="translate(588.3,2517.0) scale(1.0,1.1)" font-size="43" text-anchor="middle" fill="#111">30</text>
<line x1="730.2" y1="2478.0" x2="730.2" y2="2485.0" stroke="#888" stroke-width="2.2"/>
<text transform="translate(730.2,2517.0) scale(1.0,1.1)" font-size="43" text-anchor="middle" fill="#111">40</text>
<line x1="872.1" y1="2478.0" x2="872.1" y2="2485.0" stroke="#888" stroke-width="2.2"/>
<text transform="translate(872.1,2517.0) scale(1.0,1.1)" font-size="43" text-anchor="middle" fill="#111">50</text>
<line x1="1014.0" y1="2478.0" x2="1014.0" y2="2485.0" stroke="#888" stroke-width="2.2"/>
<text transform="translate(1014.0,2517.0) scale(1.0,1.1)" font-size="43" text-anchor="middle" fill="#111">60</text>
<line x1="1014.0" y1="1841.5" x2="1021.0" y2="1841.5" stroke="#888" stroke-width="2.2"/>
<text transform="translate(1020.0,1857.0) scale(1.0,1.1)" font-size="43" text-anchor="start" fill="#111">0</text>
<line x1="1014.0" y1="2053.7" x2="1021.0" y2="2053.7" stroke="#888" stroke-width="2.2"/>
<text transform="translate(1020.0,2069.2) scale(1.0,1.1)" font-size="43" text-anchor="start" fill="#111">10</text>
<line x1="1014.0" y1="2265.8" x2="1021.0" y2="2265.8" stroke="#888" stroke-width="2.2"/>
<text transform="translate(1020.0,2281.3) scale(1.0,1.1)" font-size="43" text-anchor="start" fill="#111">20</text>
<line x1="1014.0" y1="2478.0" x2="1021.0" y2="2478.0" stroke="#888" stroke-width="2.2"/>
<text transform="translate(1020.0,2493.5) scale(1.0,1.1)" font-size="43" text-anchor="start" fill="#111">30</text>
<text transform="translate(590.3,2561.0) scale(1.0,1.07)" font-size="45" text-anchor="middle" fill="#111">Time(hour)</text>
<text transform="translate(590.3,2630.0) scale(1.0,1.03)" font-size="44.5" text-anchor="middle" fill="#111">(e) 2021050900</text>
<text transform="translate(74.6,2156.8) rotate(-90)" font-size="45.5" text-anchor="middle" fill="#111">Forecasted Hour Runoff(m<tspan font-size="26" dy="-5">3</tspan><tspan dy="5">/s)</tspan></text>
<text transform="translate(1102.0,2157.8) rotate(-90)" font-size="44.7" text-anchor="middle" fill="#111">Precipitation(mm)</text>
</g>
<g id="panel-f">
<clipPath id="clipf"><rect x="1390.6" y="1846.4" width="850.7000000000003" height="635.5999999999999"/></clipPath>
<g clip-path="url(#clipf)">
<rect x="1474.8" y="1846.4" width="13.9" height="8.5" fill="#c9d9f8"/>
<rect x="1490.0" y="1846.4" width="13.9" height="8.5" fill="#c9d9f8"/>
<rect x="1565.9" y="1846.4" width="13.9" height="2.6" fill="#c9d9f8"/>
<rect x="1581.1" y="1846.4" width="13.9" height="40.1" fill="#c9d9f8"/>
<rect x="1596.3" y="1846.4" width="13.9" height="126.5" fill="#c9d9f8"/>
<rect x="1611.5" y="1846.4" width="13.9" height="210.4" fill="#c9d9f8"/>
<rect x="1626.7" y="1846.4" width="13.9" height="204.5" fill="#c9d9f8"/>
<rect x="1641.9" y="1846.4" width="13.9" height="77.8" fill="#c9d9f8"/>
<rect x="1657.1" y="1846.4" width="13.9" height="51.1" fill="#c9d9f8"/>
<rect x="1672.3" y="1846.4" width="13.9" height="381.8" fill="#c9d9f8"/>
<rect x="1687.5" y="1846.4" width="13.9" height="181.4" fill="#c9d9f8"/>
<rect x="1702.6" y="1846.4" width="13.9" height="33.9" fill="#c9d9f8"/>
<rect x="1717.8" y="1846.4" width="13.9" height="26.7" fill="#c9d9f8"/>
<rect x="1733.0" y="1846.4" width="13.9" height="3.6" fill="#c9d9f8"/>
<rect x="1824.2" y="1846.4" width="13.9" height="7.9" fill="#c9d9f8"/>
<rect x="2021.7" y="1846.4" width="13.9" height="37.9" fill="#c9d9f8"/>
<rect x="2036.8" y="1846.4" width="13.9" height="50.7" fill="#c9d9f8"/>
<rect x="2052.0" y="1846.4" width="13.9" height="5.7" fill="#c9d9f8"/>
<rect x="2128.0" y="1846.4" width="13.9" height="22.1" fill="#c9d9f8"/>
<rect x="2143.2" y="1846.4" width="13.9" height="68.9" fill="#c9d9f8"/>
<rect x="2158.4" y="1846.4" width="13.9" height="16.8" fill="#c9d9f8"/>
<rect x="2219.1" y="1846.4" width="13.9" height="100.0" fill="#c9d9f8"/>
<rect x="2234.3" y="1846.4" width="13.9" height="25.2" fill="#c9d9f8"/>
<rect x="1476.3" y="1846.4" width="10.9" height="7.0" fill="#6495ed"/>
<rect x="1491.5" y="1846.4" width="10.9" height="7.0" fill="#6495ed"/>
<rect x="1567.4" y="1846.4" width="10.9" height="1.1" fill="#6495ed"/>
<rect x="1582.6" y="1846.4" width="10.9" height="38.6" fill="#6495ed"/>
<rect x="1597.8" y="1846.4" width="10.9" height="125.0" fill="#6495ed"/>
<rect x="1613.0" y="1846.4" width="10.9" height="208.9" fill="#6495ed"/>
<rect x="1628.2" y="1846.4" width="10.9" height="203.0" fill="#6495ed"/>
<rect x="1643.4" y="1846.4" width="10.9" height="76.3" fill="#6495ed"/>
<rect x="1658.6" y="1846.4" width="10.9" height="49.6" fill="#6495ed"/>
<rect x="1673.8" y="1846.4" width="10.9" height="380.3" fill="#6495ed"/>
<rect x="1689.0" y="1846.4" width="10.9" height="179.9" fill="#6495ed"/>
<rect x="1704.1" y="1846.4" width="10.9" height="32.4" fill="#6495ed"/>
<rect x="1719.3" y="1846.4" width="10.9" height="25.2" fill="#6495ed"/>
<rect x="1734.5" y="1846.4" width="10.9" height="2.1" fill="#6495ed"/>
<rect x="1825.7" y="1846.4" width="10.9" height="6.4" fill="#6495ed"/>
<rect x="2023.2" y="1846.4" width="10.9" height="36.4" fill="#6495ed"/>
<rect x="2038.3" y="1846.4" width="10.9" height="49.2" fill="#6495ed"/>
<rect x="2053.5" y="1846.4" width="10.9" height="4.2" fill="#6495ed"/>
<rect x="2129.5" y="1846.4" width="10.9" height="20.6" fill="#6495ed"/>
<rect x="2144.7" y="1846.4" width="10.9" height="67.4" fill="#6495ed"/>
<rect x="2159.9" y="1846.4" width="10.9" height="15.3" fill="#6495ed"/>
<rect x="2220.6" y="1846.4" width="10.9" height="98.5" fill="#6495ed"/>
<rect x="2235.8" y="1846.4" width="10.9" height="23.7" fill="#6495ed"/>
</g>
<g clip-path="url(#clipf)" fill="none">
<polyline points="1390.6,2459.2 1482.3,2459.2 1579.7,2458.0 1604.0,2453.1 1628.4,2445.8 1643.0,2433.7 1652.7,2416.6 1660.0,2389.9 1667.3,2358.2 1674.6,2324.2 1681.9,2285.2 1689.2,2241.4 1696.5,2202.5 1703.8,2163.5 1711.1,2107.7 1720.8,2063.9 1730.6,2025.0 1740.3,1990.9 1750.0,1966.5 1762.2,1949.5 1774.4,1939.8 1784.1,1942.2 1793.8,1954.4 1803.6,1971.4 1813.3,1988.5 1823.1,2007.9 1824.1,2030.8 1833.6,2056.2 1843.2,2081.7 1855.9,2113.5 1868.6,2142.1 1881.3,2167.5 1894.0,2193.0 1906.8,2218.4 1919.5,2240.7 1932.2,2259.8 1944.9,2278.8 1957.6,2291.6 1970.4,2304.3 1983.1,2317.0 1995.8,2326.5 2011.7,2336.1 2027.6,2342.4 2046.7,2352.0 2065.8,2358.3 2084.8,2364.7 2103.9,2371.1 2123.0,2377.4 2142.1,2380.6 2161.2,2382.2 2186.6,2383.8 2218.4,2385.4 2242.3,2385.4" stroke="#cdcdcd" stroke-width="7.5" stroke-linejoin="round"/>
<polyline points="1390.6,2459.2 1492.1,2453.1 1504.2,2453.1 1517.6,2453.1 1591.9,2455.6 1597.9,2445.8 1606.5,2434.9 1612.5,2425.2 1622.3,2416.6 1633.2,2410.6 1640.5,2400.8 1647.8,2389.9 1657.6,2397.2 1669.7,2402.0 1679.5,2399.6 1683.1,2387.4 1686.8,2363.1 1691.6,2350.9 1696.5,2338.8 1698.9,2324.2 1701.4,2304.7 1703.8,2290.1 1706.2,2275.5 1711.1,2246.3 1716.0,2212.2 1720.8,2183.0 1725.7,2153.8 1730.6,2124.6 1740.3,2059.0 1750.0,2015.2 1759.8,1981.2 1769.5,1961.7 1781.7,1956.8 1789.0,1956.8 1798.7,1976.3 1808.5,2000.6 1818.2,2020.1 1824.1,2088.0 1836.8,2113.5 1852.7,2138.9 1868.6,2161.2 1884.5,2183.4 1900.4,2205.7 1913.1,2218.4 1922.7,2231.1 1938.6,2262.9 1951.3,2285.2 1970.4,2307.5 1979.9,2325.0 1995.8,2326.5 2011.7,2323.4 2037.1,2328.1 2049.9,2326.5 2059.4,2336.1 2068.9,2340.9 2081.7,2345.6 2092.8,2352.0 2103.9,2358.3 2113.5,2359.9 2126.2,2358.3 2138.9,2364.7 2151.6,2367.9 2164.3,2369.5 2177.1,2369.5 2189.8,2367.9 2202.5,2364.7 2218.4,2363.1 2231.1,2361.5 2242.3,2361.5" stroke="#ff8c00" stroke-width="3.5" stroke-dasharray="3.5 9.0"/>
<polyline points="1390.6,2460.0 1591.9,2455.6 1604.0,2448.3 1616.2,2443.4 1624.7,2434.9 1633.2,2428.8 1643.0,2425.2 1652.7,2421.5 1662.4,2428.8 1672.2,2419.1 1679.5,2421.5 1684.3,2433.7 1686.8,2445.8 1688.0,2456.8 1692.9,2467.7 1696.5,2454.4 1698.9,2441.0 1701.4,2417.9 1702.6,2404.5 1705.0,2389.9 1707.5,2380.1 1709.9,2354.6 1712.3,2329.0 1714.8,2303.5 1717.2,2279.1 1719.6,2253.6 1722.1,2228.0 1724.5,2202.5 1728.1,2178.1 1731.8,2152.6 1735.4,2114.9 1745.2,1954.4 1754.9,1939.8 1764.6,1931.3 1771.9,1927.6 1781.7,1932.5 1791.4,1947.1 1801.2,1964.1 1810.9,1981.2 1820.6,2000.6 1830.4,2056.2 1843.2,2091.2 1852.7,2126.2 1860.7,2153.2 1867.0,2175.5 1876.6,2199.3 1887.7,2218.4 1900.4,2231.1 1916.3,2247.0 1932.2,2266.1 1948.1,2285.2 1964.0,2301.1 1983.1,2313.8 2002.2,2323.4 2021.2,2325.0 2040.3,2320.2 2056.2,2317.0 2065.8,2321.8 2078.5,2326.5 2091.2,2342.4 2107.1,2361.5 2123.0,2377.4 2135.7,2388.6 2146.9,2394.9 2156.4,2394.9 2169.1,2391.7 2189.8,2393.3 2202.5,2396.5 2215.2,2394.9 2231.1,2383.8 2242.3,2353.6" stroke="#6495ed" stroke-width="3.5" stroke-dasharray="3.5 9.0"/>
<polyline points="1390.6,2459.2 1591.9,2466.5 1600.4,2475.0 1612.5,2478.7 1621.1,2472.6 1627.1,2461.7 1633.2,2450.7 1644.2,2455.6 1650.3,2445.8 1655.1,2433.7 1660.0,2423.9 1667.3,2414.2 1677.0,2397.2 1686.8,2353.4 1694.1,2329.0 1701.4,2299.8 1708.7,2265.8 1713.5,2231.7 1719.6,2202.5 1725.7,2170.8 1730.6,2139.2 1734.2,2117.3 1745.2,2039.6 1754.9,2010.4 1764.6,2005.5 1771.9,2000.6 1776.8,1988.5 1784.1,1978.7 1791.4,1979.9 1798.7,1988.5 1806.0,2005.5 1813.3,2025.0 1820.6,2049.3 1824.1,2084.9 1830.4,2110.3 1835.2,2123.0 1836.8,2135.7 1841.6,2146.9 1844.8,2159.6 1849.5,2170.7 1857.5,2180.3 1863.8,2191.4 1871.8,2200.9 1876.6,2210.5 1889.3,2202.5 1900.4,2218.4 1909.9,2224.8 1922.7,2240.7 1935.4,2269.3 1949.7,2291.6 1959.2,2297.9 1968.8,2309.1 1978.3,2325.0 1987.9,2334.5 1999.0,2329.7 2011.7,2326.5 2024.4,2318.6 2037.1,2320.2 2049.9,2326.5 2059.4,2320.2 2068.9,2323.4 2081.7,2331.3 2092.8,2340.9 2103.9,2342.4 2123.0,2352.0 2135.7,2353.6 2150.0,2359.9 2158.0,2352.0 2164.3,2340.9 2173.9,2348.8 2183.4,2356.8 2193.0,2361.5 2205.7,2366.3 2218.4,2364.7 2231.1,2366.3 2242.3,2364.7" stroke="#bfbf00" stroke-width="3.5" stroke-dasharray="3.5 9.0"/>
<polyline points="1390.6,2460.4 1604.0,2460.4 1628.4,2455.6 1655.1,2444.6 1666.1,2438.5 1675.8,2431.2 1684.3,2421.5 1689.2,2410.6 1696.5,2398.4 1705.0,2389.9 1713.5,2380.1 1722.1,2371.6 1729.4,2361.9 1735.4,2349.7 1744.0,2341.2 1754.9,2335.1 1763.4,2326.6 1774.4,2319.3 1784.1,2312.0 1795.1,2305.9 1806.0,2304.7 1817.0,2308.3 1817.7,2307.5 1827.3,2297.9 1835.2,2302.7 1843.2,2312.2 1854.3,2317.0 1867.0,2317.0 1878.1,2318.6 1887.7,2326.5 1898.8,2331.3 1909.9,2336.1 1921.1,2342.4 1932.2,2348.8 1943.3,2356.8 1952.9,2363.1 1965.6,2363.1 1978.3,2367.9 1989.4,2367.9 2002.2,2367.9 2013.3,2374.2 2024.4,2371.1 2037.1,2372.7 2049.9,2374.2 2062.6,2377.4 2075.3,2380.6 2084.8,2372.7 2094.4,2367.9 2107.1,2367.9 2123.0,2367.9 2134.1,2369.5 2145.3,2364.7 2156.4,2361.5 2169.1,2358.3 2181.8,2356.8 2194.6,2356.8 2205.7,2352.0 2218.4,2348.8 2231.1,2345.6 2242.3,2344.0" stroke="#c000c0" stroke-width="3.5" stroke-dasharray="3.5 9.0"/>
<polyline points="1390.6,2460.4 1604.0,2450.7 1613.8,2443.4 1624.7,2442.2 1630.8,2431.2 1640.5,2427.6 1650.3,2421.5 1658.8,2411.8 1664.9,2402.0 1677.0,2365.5 1684.3,2343.6 1689.2,2316.9 1694.1,2277.9 1701.4,2246.3 1706.2,2226.8 1711.1,2202.5 1716.0,2178.1 1720.8,2139.2 1735.4,2059.0 1745.2,2020.1 1754.9,1986.0 1764.6,1954.4 1774.4,1932.5 1785.3,1913.0 1795.1,1921.5 1802.4,1932.5 1809.7,1954.4 1817.0,1979.9 1823.1,1998.2 1824.1,2005.4 1833.6,2040.3 1840.0,2065.8 1846.3,2091.2 1859.1,2119.8 1875.0,2148.5 1887.7,2173.9 1900.4,2199.3 1916.3,2231.1 1932.2,2259.8 1948.1,2278.8 1964.0,2294.7 1983.1,2310.6 2002.2,2323.4 2027.6,2336.1 2059.4,2345.6 2091.2,2358.3 2123.0,2371.1 2154.8,2375.8 2186.6,2377.4 2218.4,2377.4 2242.3,2377.4" stroke="#00bfff" stroke-width="3.5" stroke-dasharray="3.5 9.0"/>
<polyline points="1390.6,2460.4 1405.8,2462.8 1421.0,2464.2 1436.2,2461.4 1451.4,2466.3 1466.6,2456.8 1481.7,2461.2 1496.9,2457.6 1512.1,2453.0 1527.3,2455.0 1542.5,2462.2 1557.7,2455.6 1572.9,2454.5 1588.1,2460.4 1603.3,2458.0 1618.5,2451.7 1633.7,2451.8 1648.8,2431.1 1664.0,2413.3 1679.2,2345.1 1694.4,2261.1 1709.6,2177.8 1724.8,2083.0 1740.0,2019.7 1755.2,1973.7 1770.4,1943.8 1785.6,1944.9 1800.8,1951.0 1816.0,1980.1 1831.1,2006.8 1846.3,2067.1 1861.5,2109.6 1876.7,2143.6 1891.9,2169.5 1907.1,2201.3 1922.3,2233.1 1937.5,2248.7 1952.7,2270.6 1967.9,2298.1 1983.1,2307.7 1998.2,2314.1 2013.4,2329.6 2028.6,2338.8 2043.8,2347.0 2059.0,2355.0 2074.2,2359.1 2089.4,2365.3 2104.6,2366.5 2119.8,2375.5 2135.0,2380.7 2150.2,2386.5 2165.3,2385.1 2180.5,2389.8 2195.7,2389.2 2210.9,2386.4 2226.1,2389.0 2241.3,2387.8" stroke="#008000" stroke-width="3.5" stroke-dasharray="3.5 9.0"/>
<polyline points="1390.6,2458.1 1405.8,2459.0 1421.0,2459.6 1436.2,2460.2 1451.4,2456.8 1466.6,2462.7 1481.7,2455.0 1496.9,2459.0 1512.1,2461.3 1527.3,2460.3 1542.5,2460.7 1557.7,2457.8 1572.9,2460.4 1588.1,2453.8 1603.3,2456.8 1618.5,2457.6 1633.7,2448.2 1648.8,2439.1 1664.0,2394.7 1679.2,2324.0 1694.4,2239.9 1709.6,2163.8 1724.8,2071.0 1740.0,2000.8 1755.2,1957.8 1770.4,1937.1 1785.6,1929.7 1800.8,1945.2 1816.0,1978.3 1831.1,2034.7 1846.3,2074.8 1861.5,2112.3 1876.7,2149.6 1891.9,2181.4 1907.1,2208.3 1922.3,2239.3 1937.5,2259.9 1952.7,2281.0 1967.9,2289.0 1983.1,2314.4 1998.2,2324.8 2013.4,2334.5 2028.6,2339.3 2043.8,2344.6 2059.0,2355.9 2074.2,2362.1 2089.4,2369.8 2104.6,2372.8 2119.8,2373.6 2135.0,2379.7 2150.2,2386.2 2165.3,2386.4 2180.5,2387.0 2195.7,2387.2 2210.9,2391.7 2226.1,2391.0 2241.3,2395.2" stroke="#ff0000" stroke-width="3.5" stroke-dasharray="3.5 9.0"/>
</g>
<line x1="1384.6" y1="1846.4" x2="2242.8" y2="1846.4" stroke="#a6a6a6" stroke-width="4.0"/>
<line x1="1389.1" y1="2482.0" x2="2242.8" y2="2482.0" stroke="#a6a6a6" stroke-width="4.0"/>
<line x1="1390.6" y1="1846.4" x2="1390.6" y2="2483.5" stroke="#c0c0c0" stroke-width="4.0"/>
<line x1="2241.3" y1="1846.4" x2="2241.3" y2="2483.5" stroke="#606060" stroke-width="3.0"/>
<line x1="1383.6" y1="2482.0" x2="1390.6" y2="2482.0" stroke="#555" stroke-width="2"/>
<text transform="translate(1383.1,2497.5) scale(1.0,1.1)" font-size="43" text-anchor="end" fill="#111">0</text>
<line x1="1383.6" y1="2354.9" x2="1390.6" y2="2354.9" stroke="#555" stroke-width="2"/>
<text transform="translate(1383.1,2370.4) scale(1.0,1.1)" font-size="43" text-anchor="end" fill="#111">100</text>
<line x1="1383.6" y1="2227.8" x2="1390.6" y2="2227.8" stroke="#555" stroke-width="2"/>
<text transform="translate(1383.1,2243.3) scale(1.0,1.1)" font-size="43" text-anchor="end" fill="#111">200</text>
<line x1="1383.6" y1="2100.6" x2="1390.6" y2="2100.6" stroke="#555" stroke-width="2"/>
<text transform="translate(1383.1,2116.1) scale(1.0,1.1)" font-size="43" text-anchor="end" fill="#111">300</text>
<line x1="1383.6" y1="1973.5" x2="1390.6" y2="1973.5" stroke="#555" stroke-width="2"/>
<text transform="translate(1383.1,1989.0) scale(1.0,1.1)" font-size="43" text-anchor="end" fill="#111">400</text>
<line x1="1383.6" y1="1846.4" x2="1390.6" y2="1846.4" stroke="#555" stroke-width="2"/>
<text transform="translate(1383.1,1861.9) scale(1.0,1.1)" font-size="43" text-anchor="end" fill="#111">500</text>
<line x1="1390.6" y1="2482.0" x2="1390.6" y2="2489.0" stroke="#888" stroke-width="2.2"/>
<text transform="translate(1390.6,2521.0) scale(1.0,1.1)" font-size="43" text-anchor="middle" fill="#111">0</text>
<line x1="1542.5" y1="2482.0" x2="1542.5" y2="2489.0" stroke="#888" stroke-width="2.2"/>
<text transform="translate(1542.5,2521.0) scale(1.0,1.1)" font-size="43" text-anchor="middle" fill="#111">10</text>
<line x1="1694.4" y1="2482.0" x2="1694.4" y2="2489.0" stroke="#888" stroke-width="2.2"/>
<text transform="translate(1694.4,2521.0) scale(1.0,1.1)" font-size="43" text-anchor="middle" fill="#111">20</text>
<line x1="1846.3" y1="2482.0" x2="1846.3" y2="2489.0" stroke="#888" stroke-width="2.2"/>
<text transform="translate(1846.3,2521.0) scale(1.0,1.1)" font-size="43" text-anchor="middle" fill="#111">30</text>
<line x1="1998.2" y1="2482.0" x2="1998.2" y2="2489.0" stroke="#888" stroke-width="2.2"/>
<text transform="translate(1998.2,2521.0) scale(1.0,1.1)" font-size="43" text-anchor="middle" fill="#111">40</text>
<line x1="2150.2" y1="2482.0" x2="2150.2" y2="2489.0" stroke="#888" stroke-width="2.2"/>
<text transform="translate(2150.2,2521.0) scale(1.0,1.1)" font-size="43" text-anchor="middle" fill="#111">50</text>
<line x1="2241.3" y1="1846.4" x2="2248.3" y2="1846.4" stroke="#888" stroke-width="2.2"/>
<text transform="translate(2247.3,1861.9) scale(1.0,1.1)" font-size="43" text-anchor="start" fill="#111">0</text>
<line x1="2241.3" y1="2058.3" x2="2248.3" y2="2058.3" stroke="#888" stroke-width="2.2"/>
<text transform="translate(2247.3,2073.8) scale(1.0,1.1)" font-size="43" text-anchor="start" fill="#111">10</text>
<line x1="2241.3" y1="2270.1" x2="2248.3" y2="2270.1" stroke="#888" stroke-width="2.2"/>
<text transform="translate(2247.3,2285.6) scale(1.0,1.1)" font-size="43" text-anchor="start" fill="#111">20</text>
<line x1="2241.3" y1="2482.0" x2="2248.3" y2="2482.0" stroke="#888" stroke-width="2.2"/>
<text transform="translate(2247.3,2497.5) scale(1.0,1.1)" font-size="43" text-anchor="start" fill="#111">30</text>
<text transform="translate(1818.0,2565.0) scale(1.0,1.07)" font-size="45" text-anchor="middle" fill="#111">Time(hour)</text>
<text transform="translate(1818.0,2634.0) scale(1.0,1.03)" font-size="44.5" text-anchor="middle" fill="#111">(f) 2021051612</text>
<text transform="translate(1302.6,2161.2) rotate(-90)" font-size="45.5" text-anchor="middle" fill="#111">Forecasted Hour Runoff(m<tspan font-size="26" dy="-5">3</tspan><tspan dy="5">/s)</tspan></text>
<text transform="translate(2329.3,2162.2) rotate(-90)" font-size="44.7" text-anchor="middle" fill="#111">Precipitation(mm)</text>
</g>
<text transform="translate(396.0,62.0)" font-size="40" text-anchor="start" fill="#111">real</text>
<text transform="translate(572.7,62.0) scale(1.0,1.09)" font-size="33.5" text-anchor="start" fill="#111">CNN</text>
<text transform="translate(753.6,62.0) scale(1.0,1.09)" font-size="33.5" text-anchor="start" fill="#111">LSTM</text>
<text transform="translate(977.0,62.0) scale(1.0,1.09)" font-size="33.5" text-anchor="start" fill="#111">ANN</text>
<text transform="translate(1174.0,62.0) scale(1.0,1.09)" font-size="33.5" text-anchor="start" fill="#111">RF</text>
<text transform="translate(1344.0,62.0) scale(1.0,1.09)" font-size="33.5" text-anchor="start" fill="#111">SA-LSTM</text>
<text transform="translate(1622.0,62.0) scale(1.0,1.09)" font-size="33.5" text-anchor="start" fill="#111">SA-CNN</text>
<text transform="translate(1879.0,62.0) scale(1.0,1.09)" font-size="33.5" text-anchor="start" fill="#111">SA-CNN-LSTM</text>
<line x1="298" y1="53.2" x2="374" y2="53.2" stroke="#888" stroke-width="4"/>
<line x1="482" y1="52" x2="552" y2="52" stroke="#ff8c00" stroke-width="3.8" stroke-dasharray="12 17"/>
<line x1="671" y1="52" x2="741" y2="52" stroke="#6495ed" stroke-width="3.8" stroke-dasharray="12 17"/>
<line x1="894" y1="52" x2="964" y2="52" stroke="#bfbf00" stroke-width="3.8" stroke-dasharray="12 17"/>
<line x1="1087.5" y1="52" x2="1157.5" y2="52" stroke="#c000c0" stroke-width="3.8" stroke-dasharray="12 17"/>
<line x1="1258" y1="52" x2="1328" y2="52" stroke="#00bfff" stroke-width="3.8" stroke-dasharray="12 17"/>
<line x1="1530" y1="52" x2="1600" y2="52" stroke="#008000" stroke-width="3.8" stroke-dasharray="12 17"/>
<line x1="1801" y1="52" x2="1871" y2="52" stroke="#ff0000" stroke-width="3.8" stroke-dasharray="12 17"/></svg>
</body></html>
